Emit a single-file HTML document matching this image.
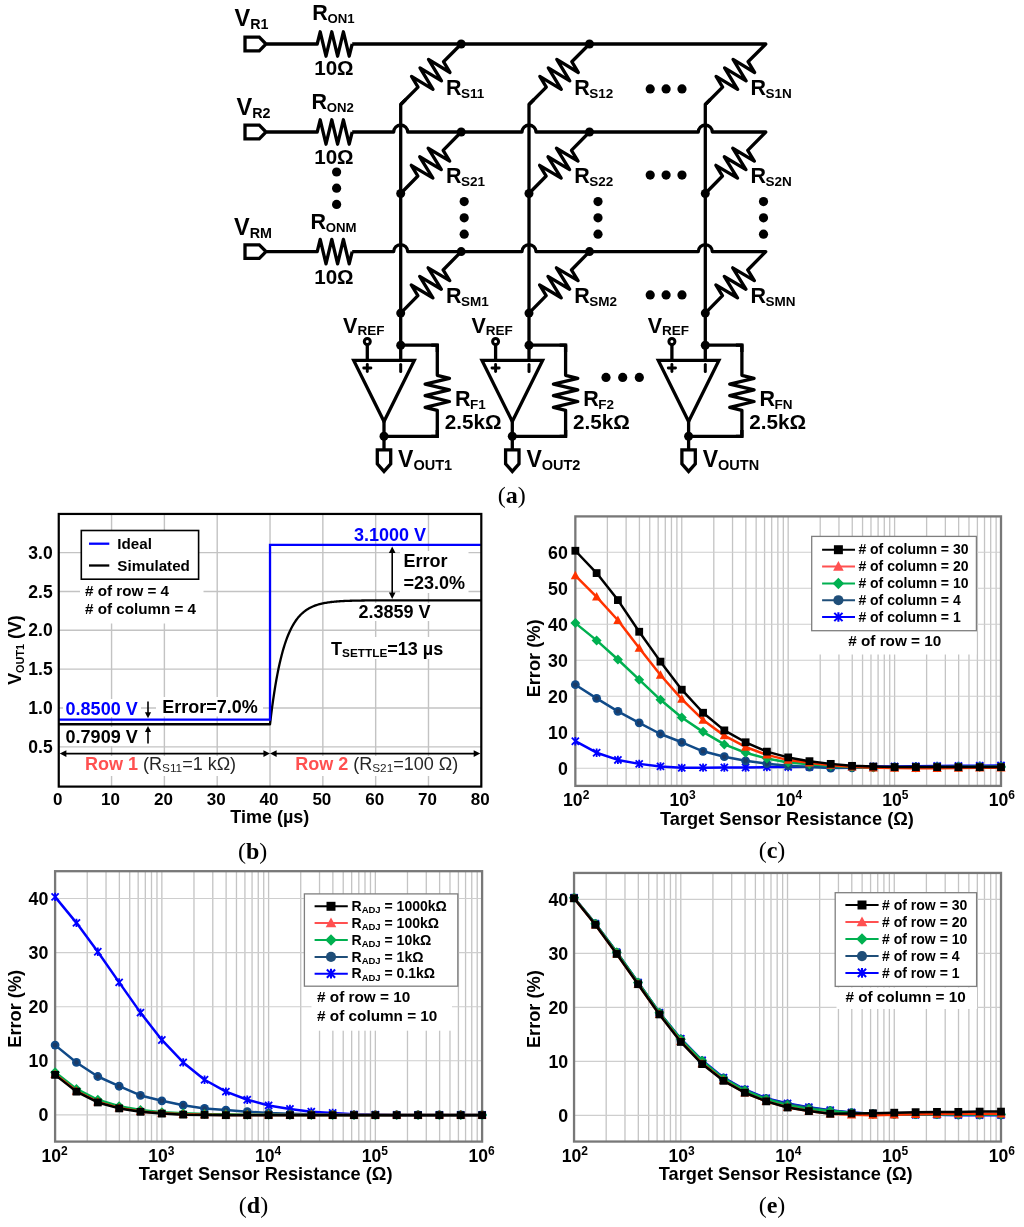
<!DOCTYPE html>
<html lang="en"><head><meta charset="utf-8"><title>Figure</title>
<style>html,body{margin:0;padding:0;background:#fff}svg{display:block}</style>
</head><body>
<svg width="1024" height="1227" viewBox="0 0 1024 1227" font-weight="bold">
<rect width="1024" height="1227" fill="#fff"/>
<g id="circuit" font-family='"Liberation Sans", sans-serif'>
<polygon points="245,37.2 259.3,37.2 266,44 259.3,50.8 245,50.8" fill="none" stroke="#000" stroke-width="3.3" stroke-linejoin="miter"/>
<polyline points="266.5,44 317.2,44 320.2,31.8 326,56.2 331.8,31.8 337.6,56.2 343.4,31.8 349.2,56.2 352.2,44" fill="none" stroke="#000" stroke-width="3.3" stroke-linejoin="round" stroke-linecap="butt"/>
<path d="M352.2 44 H765.8 L748.08 61.72 L754.59 72.47 L733.09 59.46 L746.1 80.95 L724.6 67.94 L737.61 89.44 L716.12 76.43 L722.62 87.18 L705.3 104.5" fill="none" stroke="#000" stroke-width="3.3" stroke-linejoin="round"/>
<polyline points="461.2,44 443.48,61.72 449.99,72.47 428.49,59.46 441.5,80.95 420,67.94 433.01,89.44 411.52,76.43 418.02,87.18 400.7,104.5" fill="none" stroke="#000" stroke-width="3.3" stroke-linejoin="round" stroke-linecap="butt"/>
<circle cx="461.2" cy="44" r="4.5" fill="#000"/>
<polyline points="589.5,44 571.78,61.72 578.29,72.47 556.79,59.46 569.8,80.95 548.3,67.94 561.31,89.44 539.82,76.43 546.32,87.18 529,104.5" fill="none" stroke="#000" stroke-width="3.3" stroke-linejoin="round" stroke-linecap="butt"/>
<circle cx="589.5" cy="44" r="4.5" fill="#000"/>
<polygon points="245,125.2 259.3,125.2 266,132 259.3,138.8 245,138.8" fill="none" stroke="#000" stroke-width="3.3" stroke-linejoin="miter"/>
<polyline points="266.5,132 317.2,132 320.2,119.8 326,144.2 331.8,119.8 337.6,144.2 343.4,119.8 349.2,144.2 352.2,132" fill="none" stroke="#000" stroke-width="3.3" stroke-linejoin="round" stroke-linecap="butt"/>
<path d="M352.2 132 H393.7 A7 7 0 0 1 407.7 132 H522 A7 7 0 0 1 536 132 H698.3 A7 7 0 0 1 712.3 132 H765.8 L747.73 150.37 L754.32 161.07 L732.72 148.23 L745.91 169.62 L724.3 156.79 L737.49 178.17 L715.89 165.34 L722.48 176.03 L705.3 193.5" fill="none" stroke="#000" stroke-width="3.3" stroke-linejoin="round"/>
<polyline points="461.2,132 443.13,150.37 449.72,161.07 428.12,148.23 441.31,169.62 419.7,156.79 432.89,178.17 411.29,165.34 417.88,176.03 400.7,193.5" fill="none" stroke="#000" stroke-width="3.3" stroke-linejoin="round" stroke-linecap="butt"/>
<circle cx="461.2" cy="132" r="4.5" fill="#000"/>
<polyline points="589.5,132 571.43,150.37 578.02,161.07 556.42,148.23 569.61,169.62 548,156.79 561.19,178.17 539.59,165.34 546.18,176.03 529,193.5" fill="none" stroke="#000" stroke-width="3.3" stroke-linejoin="round" stroke-linecap="butt"/>
<circle cx="589.5" cy="132" r="4.5" fill="#000"/>
<circle cx="400.7" cy="193.5" r="4.5" fill="#000"/>
<circle cx="529" cy="193.5" r="4.5" fill="#000"/>
<circle cx="705.3" cy="193.5" r="4.5" fill="#000"/>
<polygon points="245,244.8 259.3,244.8 266,251.6 259.3,258.4 245,258.4" fill="none" stroke="#000" stroke-width="3.3" stroke-linejoin="miter"/>
<polyline points="266.5,251.6 317.2,251.6 320.2,239.4 326,263.8 331.8,239.4 337.6,263.8 343.4,239.4 349.2,263.8 352.2,251.6" fill="none" stroke="#000" stroke-width="3.3" stroke-linejoin="round" stroke-linecap="butt"/>
<path d="M352.2 251.6 H393.7 A7 7 0 0 1 407.7 251.6 H522 A7 7 0 0 1 536 251.6 H698.3 A7 7 0 0 1 712.3 251.6 H765.8 L747.73 269.97 L754.32 280.67 L732.72 267.83 L745.91 289.22 L724.3 276.39 L737.49 297.77 L715.89 284.94 L722.48 295.63 L705.3 313.1" fill="none" stroke="#000" stroke-width="3.3" stroke-linejoin="round"/>
<polyline points="461.2,251.6 443.13,269.97 449.72,280.67 428.12,267.83 441.31,289.22 419.7,276.39 432.89,297.77 411.29,284.94 417.88,295.63 400.7,313.1" fill="none" stroke="#000" stroke-width="3.3" stroke-linejoin="round" stroke-linecap="butt"/>
<circle cx="461.2" cy="251.6" r="4.5" fill="#000"/>
<polyline points="589.5,251.6 571.43,269.97 578.02,280.67 556.42,267.83 569.61,289.22 548,276.39 561.19,297.77 539.59,284.94 546.18,295.63 529,313.1" fill="none" stroke="#000" stroke-width="3.3" stroke-linejoin="round" stroke-linecap="butt"/>
<circle cx="589.5" cy="251.6" r="4.5" fill="#000"/>
<circle cx="400.7" cy="313.1" r="4.5" fill="#000"/>
<circle cx="529" cy="313.1" r="4.5" fill="#000"/>
<circle cx="705.3" cy="313.1" r="4.5" fill="#000"/>
<polyline points="405.7,99.5 400.7,104.5 400.7,360.4" fill="none" stroke="#000" stroke-width="3.3" stroke-linejoin="miter" stroke-linecap="butt"/>
<polyline points="534,99.5 529,104.5 529,360.4" fill="none" stroke="#000" stroke-width="3.3" stroke-linejoin="miter" stroke-linecap="butt"/>
<polyline points="710.3,99.5 705.3,104.5 705.3,360.4" fill="none" stroke="#000" stroke-width="3.3" stroke-linejoin="miter" stroke-linecap="butt"/>
<polygon points="353.7,360.4 414.3,360.4 384,421.5" fill="none" stroke="#000" stroke-width="3.3" stroke-linejoin="miter" stroke-miterlimit="10"/>
<polyline points="384,419 384,449.8" fill="none" stroke="#000" stroke-width="3.3" stroke-linejoin="miter" stroke-linecap="butt"/>
<circle cx="384" cy="436.3" r="4.5" fill="#000"/>
<polygon points="377.3,449.8 390.7,449.8 390.7,463.8 384,471.4 377.3,463.8" fill="none" stroke="#000" stroke-width="3.3" stroke-linejoin="miter"/>
<polyline points="367.3,344.5 367.3,360.4" fill="none" stroke="#000" stroke-width="3.3" stroke-linejoin="miter" stroke-linecap="butt"/>
<circle cx="367.3" cy="341.5" r="3.0" fill="#fff" stroke="#000" stroke-width="3.0"/>
<polyline points="363.7,368 370.9,368" fill="none" stroke="#000" stroke-width="2.9" stroke-linejoin="miter" stroke-linecap="round"/>
<polyline points="367.3,364.4 367.3,371.6" fill="none" stroke="#000" stroke-width="2.9" stroke-linejoin="miter" stroke-linecap="round"/>
<polyline points="400.7,364.6 400.7,371.4" fill="none" stroke="#000" stroke-width="3" stroke-linejoin="miter" stroke-linecap="round"/>
<polyline points="400.7,345.2 437.3,345.2 437.3,375.3 449.5,378.3 425.1,384.1 449.5,389.9 425.1,395.7 449.5,401.5 425.1,407.3 437.3,410.3 437.3,436.3 384,436.3" fill="none" stroke="#000" stroke-width="3.3" stroke-linejoin="round" stroke-linecap="butt"/>
<polyline points="431.3,345.2 437.3,345.2 437.3,352" fill="none" stroke="#000" stroke-width="3.3" stroke-linejoin="miter" stroke-linecap="butt"/>
<polyline points="437.3,430 437.3,436.3 431.3,436.3" fill="none" stroke="#000" stroke-width="3.3" stroke-linejoin="miter" stroke-linecap="butt"/>
<circle cx="400.7" cy="345.2" r="4.5" fill="#000"/>
<polygon points="482,360.4 542.6,360.4 512.3,421.5" fill="none" stroke="#000" stroke-width="3.3" stroke-linejoin="miter" stroke-miterlimit="10"/>
<polyline points="512.3,419 512.3,449.8" fill="none" stroke="#000" stroke-width="3.3" stroke-linejoin="miter" stroke-linecap="butt"/>
<circle cx="512.3" cy="436.3" r="4.5" fill="#000"/>
<polygon points="505.6,449.8 519,449.8 519,463.8 512.3,471.4 505.6,463.8" fill="none" stroke="#000" stroke-width="3.3" stroke-linejoin="miter"/>
<polyline points="495.6,344.5 495.6,360.4" fill="none" stroke="#000" stroke-width="3.3" stroke-linejoin="miter" stroke-linecap="butt"/>
<circle cx="495.6" cy="341.5" r="3.0" fill="#fff" stroke="#000" stroke-width="3.0"/>
<polyline points="492,368 499.2,368" fill="none" stroke="#000" stroke-width="2.9" stroke-linejoin="miter" stroke-linecap="round"/>
<polyline points="495.6,364.4 495.6,371.6" fill="none" stroke="#000" stroke-width="2.9" stroke-linejoin="miter" stroke-linecap="round"/>
<polyline points="529,364.6 529,371.4" fill="none" stroke="#000" stroke-width="3" stroke-linejoin="miter" stroke-linecap="round"/>
<polyline points="529,345.2 565.6,345.2 565.6,375.3 577.8,378.3 553.4,384.1 577.8,389.9 553.4,395.7 577.8,401.5 553.4,407.3 565.6,410.3 565.6,436.3 512.3,436.3" fill="none" stroke="#000" stroke-width="3.3" stroke-linejoin="round" stroke-linecap="butt"/>
<polyline points="559.6,345.2 565.6,345.2 565.6,352" fill="none" stroke="#000" stroke-width="3.3" stroke-linejoin="miter" stroke-linecap="butt"/>
<polyline points="565.6,430 565.6,436.3 559.6,436.3" fill="none" stroke="#000" stroke-width="3.3" stroke-linejoin="miter" stroke-linecap="butt"/>
<circle cx="529" cy="345.2" r="4.5" fill="#000"/>
<polygon points="658.3,360.4 718.9,360.4 688.6,421.5" fill="none" stroke="#000" stroke-width="3.3" stroke-linejoin="miter" stroke-miterlimit="10"/>
<polyline points="688.6,419 688.6,449.8" fill="none" stroke="#000" stroke-width="3.3" stroke-linejoin="miter" stroke-linecap="butt"/>
<circle cx="688.6" cy="436.3" r="4.5" fill="#000"/>
<polygon points="681.9,449.8 695.3,449.8 695.3,463.8 688.6,471.4 681.9,463.8" fill="none" stroke="#000" stroke-width="3.3" stroke-linejoin="miter"/>
<polyline points="671.9,344.5 671.9,360.4" fill="none" stroke="#000" stroke-width="3.3" stroke-linejoin="miter" stroke-linecap="butt"/>
<circle cx="671.9" cy="341.5" r="3.0" fill="#fff" stroke="#000" stroke-width="3.0"/>
<polyline points="668.3,368 675.5,368" fill="none" stroke="#000" stroke-width="2.9" stroke-linejoin="miter" stroke-linecap="round"/>
<polyline points="671.9,364.4 671.9,371.6" fill="none" stroke="#000" stroke-width="2.9" stroke-linejoin="miter" stroke-linecap="round"/>
<polyline points="705.3,364.6 705.3,371.4" fill="none" stroke="#000" stroke-width="3" stroke-linejoin="miter" stroke-linecap="round"/>
<polyline points="705.3,345.2 741.9,345.2 741.9,375.3 754.1,378.3 729.7,384.1 754.1,389.9 729.7,395.7 754.1,401.5 729.7,407.3 741.9,410.3 741.9,436.3 688.6,436.3" fill="none" stroke="#000" stroke-width="3.3" stroke-linejoin="round" stroke-linecap="butt"/>
<polyline points="735.9,345.2 741.9,345.2 741.9,352" fill="none" stroke="#000" stroke-width="3.3" stroke-linejoin="miter" stroke-linecap="butt"/>
<polyline points="741.9,430 741.9,436.3 735.9,436.3" fill="none" stroke="#000" stroke-width="3.3" stroke-linejoin="miter" stroke-linecap="butt"/>
<circle cx="705.3" cy="345.2" r="4.5" fill="#000"/>
<circle cx="650.2" cy="88.9" r="4.6" fill="#000"/>
<circle cx="666.1" cy="88.9" r="4.6" fill="#000"/>
<circle cx="682" cy="88.9" r="4.6" fill="#000"/>
<circle cx="650.2" cy="175.1" r="4.6" fill="#000"/>
<circle cx="666.1" cy="175.1" r="4.6" fill="#000"/>
<circle cx="682" cy="175.1" r="4.6" fill="#000"/>
<circle cx="650.2" cy="294.9" r="4.6" fill="#000"/>
<circle cx="666.1" cy="294.9" r="4.6" fill="#000"/>
<circle cx="682" cy="294.9" r="4.6" fill="#000"/>
<circle cx="606" cy="377.4" r="4.6" fill="#000"/>
<circle cx="622.7" cy="377.4" r="4.6" fill="#000"/>
<circle cx="639.3" cy="377.4" r="4.6" fill="#000"/>
<circle cx="336.6" cy="172" r="4.6" fill="#000"/>
<circle cx="336.6" cy="188.2" r="4.6" fill="#000"/>
<circle cx="336.6" cy="204.4" r="4.6" fill="#000"/>
<circle cx="464.2" cy="201.6" r="4.6" fill="#000"/>
<circle cx="464.2" cy="217.8" r="4.6" fill="#000"/>
<circle cx="464.2" cy="234.2" r="4.6" fill="#000"/>
<circle cx="598" cy="201.6" r="4.6" fill="#000"/>
<circle cx="598" cy="217.8" r="4.6" fill="#000"/>
<circle cx="598" cy="234.2" r="4.6" fill="#000"/>
<circle cx="763.5" cy="201.6" r="4.6" fill="#000"/>
<circle cx="763.5" cy="217.8" r="4.6" fill="#000"/>
<circle cx="763.5" cy="234.2" r="4.6" fill="#000"/>
<text x="234.6" y="26.2" font-size="23.5" font-weight="bold" fill="#000" text-anchor="start"><tspan>V</tspan><tspan dy="3" font-size="14.3">R1</tspan></text>
<text x="236.6" y="115.4" font-size="23.5" font-weight="bold" fill="#000" text-anchor="start"><tspan>V</tspan><tspan dy="3" font-size="14.3">R2</tspan></text>
<text x="234.1" y="235.1" font-size="23.5" font-weight="bold" fill="#000" text-anchor="start"><tspan>V</tspan><tspan dy="3" font-size="14.3">RM</tspan></text>
<text x="312.3" y="19.7" font-size="21.5" font-weight="bold" fill="#000" text-anchor="start"><tspan>R</tspan><tspan dy="3" dx="-0.4" font-size="13.2">ON1</tspan></text>
<text x="314.2" y="74.7" font-size="20.6" font-weight="bold" fill="#000" text-anchor="start">10Ω</text>
<text x="311.5" y="109.2" font-size="21.5" font-weight="bold" fill="#000" text-anchor="start"><tspan>R</tspan><tspan dy="3" dx="-0.4" font-size="13.2">ON2</tspan></text>
<text x="314.2" y="163.5" font-size="20.6" font-weight="bold" fill="#000" text-anchor="start">10Ω</text>
<text x="310.5" y="228.7" font-size="21.5" font-weight="bold" fill="#000" text-anchor="start"><tspan>R</tspan><tspan dy="3" dx="-0.4" font-size="13.2">ONM</tspan></text>
<text x="314.2" y="284.1" font-size="20.6" font-weight="bold" fill="#000" text-anchor="start">10Ω</text>
<text x="446" y="94.5" font-size="21.5" font-weight="bold" fill="#000" text-anchor="start"><tspan>R</tspan><tspan dy="3.2" dx="-0.6" font-size="13.5">S11</tspan></text>
<text x="574.3" y="94.5" font-size="21.5" font-weight="bold" fill="#000" text-anchor="start"><tspan>R</tspan><tspan dy="3.2" dx="-0.6" font-size="13.5">S12</tspan></text>
<text x="750.6" y="94.5" font-size="21.5" font-weight="bold" fill="#000" text-anchor="start"><tspan>R</tspan><tspan dy="3.2" dx="-0.6" font-size="13.5">S1N</tspan></text>
<text x="446" y="182.8" font-size="21.5" font-weight="bold" fill="#000" text-anchor="start"><tspan>R</tspan><tspan dy="3.2" dx="-0.6" font-size="13.5">S21</tspan></text>
<text x="574.3" y="182.8" font-size="21.5" font-weight="bold" fill="#000" text-anchor="start"><tspan>R</tspan><tspan dy="3.2" dx="-0.6" font-size="13.5">S22</tspan></text>
<text x="750.6" y="182.8" font-size="21.5" font-weight="bold" fill="#000" text-anchor="start"><tspan>R</tspan><tspan dy="3.2" dx="-0.6" font-size="13.5">S2N</tspan></text>
<text x="446" y="302.8" font-size="21.5" font-weight="bold" fill="#000" text-anchor="start"><tspan>R</tspan><tspan dy="3.2" dx="-0.6" font-size="13.5">SM1</tspan></text>
<text x="574.3" y="302.8" font-size="21.5" font-weight="bold" fill="#000" text-anchor="start"><tspan>R</tspan><tspan dy="3.2" dx="-0.6" font-size="13.5">SM2</tspan></text>
<text x="750.6" y="302.8" font-size="21.5" font-weight="bold" fill="#000" text-anchor="start"><tspan>R</tspan><tspan dy="3.2" dx="-0.6" font-size="13.5">SMN</tspan></text>
<text x="343.1" y="332.8" font-size="21.5" font-weight="bold" fill="#000" text-anchor="start"><tspan>V</tspan><tspan dy="2.4" font-size="13.5">REF</tspan></text>
<text x="455" y="405.7" font-size="21.5" font-weight="bold" fill="#000" text-anchor="start"><tspan>R</tspan><tspan dy="3.2" dx="-0.6" font-size="13.5">F1</tspan></text>
<text x="444.7" y="428.8" font-size="20.7" font-weight="bold" fill="#000" text-anchor="start">2.5kΩ</text>
<text x="398.1" y="466.5" font-size="23" font-weight="bold" fill="#000" text-anchor="start"><tspan>V</tspan><tspan dy="3.4" font-size="14.5">OUT1</tspan></text>
<text x="471.4" y="332.8" font-size="21.5" font-weight="bold" fill="#000" text-anchor="start"><tspan>V</tspan><tspan dy="2.4" font-size="13.5">REF</tspan></text>
<text x="583.3" y="405.7" font-size="21.5" font-weight="bold" fill="#000" text-anchor="start"><tspan>R</tspan><tspan dy="3.2" dx="-0.6" font-size="13.5">F2</tspan></text>
<text x="573" y="428.8" font-size="20.7" font-weight="bold" fill="#000" text-anchor="start">2.5kΩ</text>
<text x="526.4" y="466.5" font-size="23" font-weight="bold" fill="#000" text-anchor="start"><tspan>V</tspan><tspan dy="3.4" font-size="14.5">OUT2</tspan></text>
<text x="647.7" y="332.8" font-size="21.5" font-weight="bold" fill="#000" text-anchor="start"><tspan>V</tspan><tspan dy="2.4" font-size="13.5">REF</tspan></text>
<text x="759.6" y="405.7" font-size="21.5" font-weight="bold" fill="#000" text-anchor="start"><tspan>R</tspan><tspan dy="3.2" dx="-0.6" font-size="13.5">FN</tspan></text>
<text x="749.3" y="428.8" font-size="20.7" font-weight="bold" fill="#000" text-anchor="start">2.5kΩ</text>
<text x="702.7" y="466.5" font-size="23" font-weight="bold" fill="#000" text-anchor="start"><tspan>V</tspan><tspan dy="3.4" font-size="14.5">OUTN</tspan></text>
</g>
<text x="511.7" y="503.2" font-size="24" font-weight="normal" fill="#000" text-anchor="middle" font-family='"Liberation Serif", serif'><tspan>(</tspan><tspan font-weight="bold">a</tspan><tspan>)</tspan></text>
<g font-family='"Liberation Sans", sans-serif'>
<path d="M111.57 513.95V786.6M164.39 513.95V786.6M217.21 513.95V786.6M270.02 513.95V786.6M322.84 513.95V786.6M375.66 513.95V786.6M428.48 513.95V786.6M58.75 746.85H481.3M58.75 708H481.3M58.75 669.15H481.3M58.75 630.3H481.3M58.75 591.45H481.3M58.75 552.6H481.3" stroke="#c3c3c3" stroke-width="1.4" fill="none"/>
<rect x="80" y="579.5" width="123.5" height="44" fill="#fff"/>
<rect x="63" y="699" width="78" height="18" fill="#fff"/>
<rect x="156" y="697" width="107" height="19.5" fill="#fff"/>
<rect x="63" y="727" width="78" height="19" fill="#fff"/>
<rect x="400" y="551" width="68.5" height="42" fill="#fff"/>
<rect x="355" y="603" width="78" height="18" fill="#fff"/>
<rect x="327" y="637" width="120" height="22" fill="#fff"/>
<rect x="83" y="756" width="156.5" height="20" fill="#fff"/>
<rect x="293" y="756" width="167.5" height="20" fill="#fff"/>
<polyline points="58.75,724.25 270.02,724.25 271.08,715.4 272.14,707.18 273.19,699.55 274.25,692.47 275.31,685.89 276.36,679.78 277.42,674.1 278.48,668.84 279.53,663.94 280.59,659.4 281.65,655.18 282.7,651.27 283.76,647.63 284.81,644.25 285.87,641.11 286.93,638.2 287.98,635.5 289.04,632.98 290.1,630.65 291.15,628.49 292.21,626.47 293.27,624.61 294.32,622.87 295.38,621.26 296.43,619.77 297.49,618.38 298.55,617.09 299.6,615.89 300.66,614.78 301.72,613.75 302.77,612.79 303.83,611.9 304.89,611.07 305.94,610.3 307,609.59 308.05,608.93 309.11,608.31 310.17,607.74 311.22,607.21 312.28,606.72 313.34,606.26 314.39,605.84 315.45,605.44 316.51,605.08 317.56,604.74 318.62,604.42 319.67,604.13 320.73,603.86 321.79,603.6 322.84,603.37 323.9,603.15 324.96,602.95 326.01,602.76 327.07,602.59 328.13,602.42 329.18,602.27 330.24,602.13 331.29,602 332.35,601.88 333.41,601.77 334.46,601.67 335.52,601.57 336.58,601.48 337.63,601.4 338.69,601.32 339.75,601.25 340.8,601.18 341.86,601.12 342.91,601.06 343.97,601.01 345.03,600.96 346.08,600.91 347.14,600.87 348.2,600.83 349.25,600.79 350.31,600.76 351.37,600.73 352.42,600.7 353.48,600.67 354.53,600.65 355.59,600.62 356.65,600.6 357.7,600.58 358.76,600.56 359.82,600.54 360.87,600.53 361.93,600.51 362.99,600.5 364.04,600.49 365.1,600.47 366.16,600.46 367.21,600.45 368.27,600.44 369.32,600.43 370.38,600.42 371.44,600.42 372.49,600.41 373.55,600.4 374.61,600.4 375.66,600.39 376.72,600.39 377.78,600.38 378.83,600.38 379.89,600.37 380.94,600.37 382,600.36 383.06,600.36 384.11,600.36 385.17,600.35 386.23,600.35 387.28,600.35 388.34,600.35 389.4,600.34 390.45,600.34 391.51,600.34 392.56,600.34 393.62,600.34 394.68,600.34 395.73,600.33 396.79,600.33 397.85,600.33 398.9,600.33 399.96,600.33 401.02,600.33 402.07,600.33 403.13,600.33 404.18,600.33 405.24,600.33 406.3,600.32 407.35,600.32 408.41,600.32 409.47,600.32 410.52,600.32 411.58,600.32 412.64,600.32 413.69,600.32 414.75,600.32 415.8,600.32 416.86,600.32 417.92,600.32 418.97,600.32 420.03,600.32 421.09,600.32 422.14,600.32 423.2,600.32 424.26,600.32 425.31,600.32 426.37,600.32 427.42,600.32 428.48,600.32 429.54,600.32 430.59,600.32 431.65,600.32 432.71,600.32 433.76,600.32 434.82,600.32 435.88,600.32 436.93,600.32 437.99,600.32 439.05,600.32 440.1,600.32 441.16,600.32 442.21,600.32 443.27,600.32 444.33,600.32 445.38,600.32 446.44,600.32 447.5,600.32 448.55,600.32 449.61,600.32 450.67,600.32 451.72,600.32 452.78,600.32 453.83,600.32 454.89,600.32 455.95,600.32 457,600.32 458.06,600.32 459.12,600.32 460.17,600.32 461.23,600.32 462.29,600.32 463.34,600.32 464.4,600.32 465.45,600.32 466.51,600.32 467.57,600.32 468.62,600.32 469.68,600.32 470.74,600.32 471.79,600.32 472.85,600.32 473.91,600.32 474.96,600.32 476.02,600.32 477.07,600.32 478.13,600.32 479.19,600.32 480.24,600.32 481.3,600.32" fill="none" stroke="#000" stroke-width="2.3" stroke-linejoin="round"/>
<polyline points="58.75,719.66 270.02,719.66 270.02,544.83 481.3,544.83" fill="none" stroke="#0000ff" stroke-width="2.3" stroke-linejoin="miter"/>
<rect x="58.75" y="513.95" width="422.55" height="272.65" fill="none" stroke="#000" stroke-width="2.2"/>
<rect x="81.3" y="530.5" width="117.3" height="48.7" fill="#fff" stroke="#000" stroke-width="1.6"/>
<path d="M89 543.7H109.3" stroke="#0000ff" stroke-width="2.3"/>
<path d="M89 565.5H109.3" stroke="#000" stroke-width="2.3"/>
<text x="117.3" y="548.7" font-size="15.2" font-weight="bold" fill="#000" text-anchor="start">Ideal</text>
<text x="117.3" y="570.5" font-size="15.2" font-weight="bold" fill="#000" text-anchor="start">Simulated</text>
<text x="85" y="596" font-size="15.2" font-weight="bold" fill="#000" text-anchor="start"># of row = 4</text>
<text x="85" y="614.1" font-size="15.2" font-weight="bold" fill="#000" text-anchor="start"># of column = 4</text>
<text x="354" y="540.5" font-size="18" font-weight="bold" fill="#0000ff" text-anchor="start">3.1000 V</text>
<text x="403.4" y="566.7" font-size="18" font-weight="bold" fill="#000" text-anchor="start">Error</text>
<text x="403.4" y="589.1" font-size="18" font-weight="bold" fill="#000" text-anchor="start">=23.0%</text>
<text x="358.4" y="617.7" font-size="18" font-weight="bold" fill="#000" text-anchor="start">2.3859 V</text>
<text x="331.1" y="654.5" font-size="18" font-weight="bold" fill="#000" text-anchor="start"><tspan>T</tspan><tspan dy="2.6" font-size="11.8">SETTLE</tspan><tspan dy="-2.6">=13 µs</tspan></text>
<text x="65.6" y="715.2" font-size="18" font-weight="bold" fill="#0000ff" text-anchor="start">0.8500 V</text>
<text x="65.6" y="743.2" font-size="18" font-weight="bold" fill="#000" text-anchor="start">0.7909 V</text>
<text x="162.2" y="713.3" font-size="18" font-weight="bold" fill="#000" text-anchor="start">Error=7.0%</text>
<text x="85" y="769.6" font-size="18" font-weight="bold" fill="#ff5050" text-anchor="start"><tspan>Row 1 </tspan><tspan font-weight="normal" fill="#262626">(R</tspan><tspan dy="2.8" font-size="11.8" font-weight="normal" fill="#262626">S11</tspan><tspan dy="-2.8" font-weight="normal" fill="#262626">=1 kΩ)</tspan></text>
<text x="295.2" y="769.6" font-size="18" font-weight="bold" fill="#ff5050" text-anchor="start"><tspan>Row 2 </tspan><tspan font-weight="normal" fill="#262626">(R</tspan><tspan dy="2.8" font-size="11.8" font-weight="normal" fill="#262626">S21</tspan><tspan dy="-2.8" font-weight="normal" fill="#262626">=100 Ω)</tspan></text>
<path d="M62.75 753.6H267.02" stroke="#000" stroke-width="1.6"/>
<polygon points="59.75,753.6 66.35,750.3 66.35,756.9" fill="#000"/>
<polygon points="270.02,753.6 263.42,756.9 263.42,750.3" fill="#000"/>
<path d="M273.02 753.6H477.3" stroke="#000" stroke-width="1.6"/>
<polygon points="270.02,753.6 276.62,750.3 276.62,756.9" fill="#000"/>
<polygon points="480.3,753.6 473.7,756.9 473.7,750.3" fill="#000"/>
<path d="M392.2 551V595" stroke="#000" stroke-width="1.6"/>
<polygon points="392.2,546.5 395.5,553.1 388.9,553.1" fill="#000"/>
<polygon points="392.2,599 388.9,592.4 395.5,592.4" fill="#000"/>
<path d="M148 701.5V714" stroke="#000" stroke-width="1.6"/>
<polygon points="148,718.3 144.9,712.3 151.1,712.3" fill="#000"/>
<path d="M148 731V743.6" stroke="#000" stroke-width="1.6"/>
<polygon points="148,726 151.1,732 144.9,732" fill="#000"/>
<text x="57.75" y="804.9" font-size="17" font-weight="bold" fill="#000" text-anchor="middle">0</text>
<text x="110.57" y="804.9" font-size="17" font-weight="bold" fill="#000" text-anchor="middle">10</text>
<text x="163.39" y="804.9" font-size="17" font-weight="bold" fill="#000" text-anchor="middle">20</text>
<text x="216.21" y="804.9" font-size="17" font-weight="bold" fill="#000" text-anchor="middle">30</text>
<text x="269.02" y="804.9" font-size="17" font-weight="bold" fill="#000" text-anchor="middle">40</text>
<text x="321.84" y="804.9" font-size="17" font-weight="bold" fill="#000" text-anchor="middle">50</text>
<text x="374.66" y="804.9" font-size="17" font-weight="bold" fill="#000" text-anchor="middle">60</text>
<text x="427.48" y="804.9" font-size="17" font-weight="bold" fill="#000" text-anchor="middle">70</text>
<text x="480.3" y="804.9" font-size="17" font-weight="bold" fill="#000" text-anchor="middle">80</text>
<text x="52.7" y="752.95" font-size="17.5" font-weight="bold" fill="#000" text-anchor="end">0.5</text>
<text x="52.7" y="714.1" font-size="17.5" font-weight="bold" fill="#000" text-anchor="end">1.0</text>
<text x="52.7" y="675.25" font-size="17.5" font-weight="bold" fill="#000" text-anchor="end">1.5</text>
<text x="52.7" y="636.4" font-size="17.5" font-weight="bold" fill="#000" text-anchor="end">2.0</text>
<text x="52.7" y="597.55" font-size="17.5" font-weight="bold" fill="#000" text-anchor="end">2.5</text>
<text x="52.7" y="558.7" font-size="17.5" font-weight="bold" fill="#000" text-anchor="end">3.0</text>
<text x="269.8" y="822.7" font-size="18" font-weight="bold" fill="#000" text-anchor="middle">Time (µs)</text>
<text x="21.3" y="650" font-size="17.8" font-weight="bold" fill="#000" text-anchor="middle" transform="rotate(-90 21.3 650)"><tspan>V</tspan><tspan dy="2.6" font-size="10.9">OUT1</tspan><tspan dy="-2.6"> (V)</tspan></text>
</g>
<text x="252.6" y="858.6" font-size="24" font-weight="normal" fill="#000" text-anchor="middle" font-family='"Liberation Serif", serif'><tspan>(</tspan><tspan font-weight="bold">b</tspan><tspan>)</tspan></text>
<g font-family='"Liberation Sans", sans-serif'>
<path d="M607.38 516.4V785.9M626.12 516.4V785.9M639.42 516.4V785.9M649.73 516.4V785.9M658.16 516.4V785.9M665.28 516.4V785.9M671.45 516.4V785.9M676.89 516.4V785.9M681.76 516.4V785.9M713.8 516.4V785.9M732.53 516.4V785.9M745.83 516.4V785.9M756.14 516.4V785.9M764.57 516.4V785.9M771.69 516.4V785.9M777.86 516.4V785.9M783.31 516.4V785.9M788.17 516.4V785.9M820.21 516.4V785.9M838.95 516.4V785.9M852.24 516.4V785.9M862.55 516.4V785.9M870.98 516.4V785.9M878.1 516.4V785.9M884.28 516.4V785.9M889.72 516.4V785.9M894.59 516.4V785.9M926.62 516.4V785.9M945.36 516.4V785.9M958.65 516.4V785.9M968.97 516.4V785.9M977.39 516.4V785.9M984.52 516.4V785.9M990.69 516.4V785.9M996.13 516.4V785.9" stroke="#c4c4c4" stroke-width="1.3" fill="none"/>
<path d="M575.35 768.2H1001M575.35 732.2H1001M575.35 696.2H1001M575.35 660.2H1001M575.35 624.2H1001M575.35 588.2H1001M575.35 552.2H1001" stroke="#cecece" stroke-width="1.1" fill="none"/>
<rect x="811.7" y="630.7" width="164.7" height="23.8" fill="#fff"/>
<rect x="575.35" y="516.4" width="425.65" height="269.5" fill="none" stroke="#787878" stroke-width="2.3"/>
<polyline points="575.35,741.2 596.63,752.72 617.91,759.92 639.2,763.88 660.48,766.4 681.76,767.84 703.05,767.66 724.33,767.48 745.61,767.48 766.89,767.12 788.17,766.94 809.46,766.76 830.74,766.76 852.02,766.58 873.31,766.58 894.59,766.4 915.87,766.22 937.15,766.04 958.43,765.86 979.72,765.68 1001,765.5" fill="none" stroke="#0000ff" stroke-width="2.5" stroke-linejoin="round"/>
<path d="M575.35 737V745.4M571.78 737.63L578.92 744.77M571.78 744.77L578.92 737.63" stroke="#0000ff" stroke-width="1.8" fill="none"/>
<path d="M596.63 748.52V756.92M593.06 749.15L600.2 756.29M593.06 756.29L600.2 749.15" stroke="#0000ff" stroke-width="1.8" fill="none"/>
<path d="M617.91 755.72V764.12M614.34 756.35L621.49 763.49M614.34 763.49L621.49 756.35" stroke="#0000ff" stroke-width="1.8" fill="none"/>
<path d="M639.2 759.68V768.08M635.63 760.31L642.77 767.45M635.63 767.45L642.77 760.31" stroke="#0000ff" stroke-width="1.8" fill="none"/>
<path d="M660.48 762.2V770.6M656.91 762.83L664.05 769.97M656.91 769.97L664.05 762.83" stroke="#0000ff" stroke-width="1.8" fill="none"/>
<path d="M681.76 763.64V772.04M678.19 764.27L685.33 771.41M678.19 771.41L685.33 764.27" stroke="#0000ff" stroke-width="1.8" fill="none"/>
<path d="M703.05 763.46V771.86M699.48 764.09L706.62 771.23M699.48 771.23L706.62 764.09" stroke="#0000ff" stroke-width="1.8" fill="none"/>
<path d="M724.33 763.28V771.68M720.76 763.91L727.9 771.05M720.76 771.05L727.9 763.91" stroke="#0000ff" stroke-width="1.8" fill="none"/>
<path d="M745.61 763.28V771.68M742.04 763.91L749.18 771.05M742.04 771.05L749.18 763.91" stroke="#0000ff" stroke-width="1.8" fill="none"/>
<path d="M766.89 762.92V771.32M763.32 763.55L770.46 770.69M763.32 770.69L770.46 763.55" stroke="#0000ff" stroke-width="1.8" fill="none"/>
<path d="M788.17 762.74V771.14M784.6 763.37L791.75 770.51M784.6 770.51L791.75 763.37" stroke="#0000ff" stroke-width="1.8" fill="none"/>
<path d="M809.46 762.56V770.96M805.89 763.19L813.03 770.33M805.89 770.33L813.03 763.19" stroke="#0000ff" stroke-width="1.8" fill="none"/>
<path d="M830.74 762.56V770.96M827.17 763.19L834.31 770.33M827.17 770.33L834.31 763.19" stroke="#0000ff" stroke-width="1.8" fill="none"/>
<path d="M852.02 762.38V770.78M848.45 763.01L855.59 770.15M848.45 770.15L855.59 763.01" stroke="#0000ff" stroke-width="1.8" fill="none"/>
<path d="M873.31 762.38V770.78M869.74 763.01L876.88 770.15M869.74 770.15L876.88 763.01" stroke="#0000ff" stroke-width="1.8" fill="none"/>
<path d="M894.59 762.2V770.6M891.02 762.83L898.16 769.97M891.02 769.97L898.16 762.83" stroke="#0000ff" stroke-width="1.8" fill="none"/>
<path d="M915.87 762.02V770.42M912.3 762.65L919.44 769.79M912.3 769.79L919.44 762.65" stroke="#0000ff" stroke-width="1.8" fill="none"/>
<path d="M937.15 761.84V770.24M933.58 762.47L940.72 769.61M933.58 769.61L940.72 762.47" stroke="#0000ff" stroke-width="1.8" fill="none"/>
<path d="M958.43 761.66V770.06M954.86 762.29L962 769.43M954.86 769.43L962 762.29" stroke="#0000ff" stroke-width="1.8" fill="none"/>
<path d="M979.72 761.48V769.88M976.15 762.11L983.29 769.25M976.15 769.25L983.29 762.11" stroke="#0000ff" stroke-width="1.8" fill="none"/>
<path d="M1001 761.3V769.7M997.43 761.93L1004.57 769.07M997.43 769.07L1004.57 761.93" stroke="#0000ff" stroke-width="1.8" fill="none"/>
<polyline points="575.35,684.68 596.63,698.36 617.91,711.32 639.2,722.84 660.48,734 681.76,742.28 703.05,751.28 724.33,756.68 745.61,760.82 766.89,763.7 788.17,765.86 809.46,767.12 830.74,768.02 852.02,767.84 873.31,767.48 894.59,767.12 915.87,766.94 937.15,766.76 958.43,766.76 979.72,766.58 1001,766.58" fill="none" stroke="#104a88" stroke-width="2.5" stroke-linejoin="round"/>
<circle cx="575.35" cy="684.68" r="4.4" fill="#104a88"/>
<circle cx="575.35" cy="684.68" r="2.3" fill="#1c3b66"/>
<circle cx="596.63" cy="698.36" r="4.4" fill="#104a88"/>
<circle cx="596.63" cy="698.36" r="2.3" fill="#1c3b66"/>
<circle cx="617.91" cy="711.32" r="4.4" fill="#104a88"/>
<circle cx="617.91" cy="711.32" r="2.3" fill="#1c3b66"/>
<circle cx="639.2" cy="722.84" r="4.4" fill="#104a88"/>
<circle cx="639.2" cy="722.84" r="2.3" fill="#1c3b66"/>
<circle cx="660.48" cy="734" r="4.4" fill="#104a88"/>
<circle cx="660.48" cy="734" r="2.3" fill="#1c3b66"/>
<circle cx="681.76" cy="742.28" r="4.4" fill="#104a88"/>
<circle cx="681.76" cy="742.28" r="2.3" fill="#1c3b66"/>
<circle cx="703.05" cy="751.28" r="4.4" fill="#104a88"/>
<circle cx="703.05" cy="751.28" r="2.3" fill="#1c3b66"/>
<circle cx="724.33" cy="756.68" r="4.4" fill="#104a88"/>
<circle cx="724.33" cy="756.68" r="2.3" fill="#1c3b66"/>
<circle cx="745.61" cy="760.82" r="4.4" fill="#104a88"/>
<circle cx="745.61" cy="760.82" r="2.3" fill="#1c3b66"/>
<circle cx="766.89" cy="763.7" r="4.4" fill="#104a88"/>
<circle cx="766.89" cy="763.7" r="2.3" fill="#1c3b66"/>
<circle cx="788.17" cy="765.86" r="4.4" fill="#104a88"/>
<circle cx="788.17" cy="765.86" r="2.3" fill="#1c3b66"/>
<circle cx="809.46" cy="767.12" r="4.4" fill="#104a88"/>
<circle cx="809.46" cy="767.12" r="2.3" fill="#1c3b66"/>
<circle cx="830.74" cy="768.02" r="4.4" fill="#104a88"/>
<circle cx="830.74" cy="768.02" r="2.3" fill="#1c3b66"/>
<circle cx="852.02" cy="767.84" r="4.4" fill="#104a88"/>
<circle cx="852.02" cy="767.84" r="2.3" fill="#1c3b66"/>
<circle cx="873.31" cy="767.48" r="4.4" fill="#104a88"/>
<circle cx="873.31" cy="767.48" r="2.3" fill="#1c3b66"/>
<circle cx="894.59" cy="767.12" r="4.4" fill="#104a88"/>
<circle cx="894.59" cy="767.12" r="2.3" fill="#1c3b66"/>
<circle cx="915.87" cy="766.94" r="4.4" fill="#104a88"/>
<circle cx="915.87" cy="766.94" r="2.3" fill="#1c3b66"/>
<circle cx="937.15" cy="766.76" r="4.4" fill="#104a88"/>
<circle cx="937.15" cy="766.76" r="2.3" fill="#1c3b66"/>
<circle cx="958.43" cy="766.76" r="4.4" fill="#104a88"/>
<circle cx="958.43" cy="766.76" r="2.3" fill="#1c3b66"/>
<circle cx="979.72" cy="766.58" r="4.4" fill="#104a88"/>
<circle cx="979.72" cy="766.58" r="2.3" fill="#1c3b66"/>
<circle cx="1001" cy="766.58" r="4.4" fill="#104a88"/>
<circle cx="1001" cy="766.58" r="2.3" fill="#1c3b66"/>
<polyline points="575.35,623.12 596.63,640.4 617.91,659.48 639.2,679.64 660.48,699.8 681.76,717.44 703.05,731.84 724.33,744.44 745.61,752.72 766.89,758.48 788.17,762.44 809.46,764.24 830.74,766.04 852.02,766.94 873.31,767.48 894.59,767.48 915.87,767.48 937.15,767.3 958.43,767.12 979.72,767.12 1001,767.12" fill="none" stroke="#00b050" stroke-width="2.5" stroke-linejoin="round"/>
<polygon points="575.35,618.12 580.35,623.12 575.35,628.12 570.35,623.12" fill="#00b050"/>
<polygon points="596.63,635.4 601.63,640.4 596.63,645.4 591.63,640.4" fill="#00b050"/>
<polygon points="617.91,654.48 622.91,659.48 617.91,664.48 612.91,659.48" fill="#00b050"/>
<polygon points="639.2,674.64 644.2,679.64 639.2,684.64 634.2,679.64" fill="#00b050"/>
<polygon points="660.48,694.8 665.48,699.8 660.48,704.8 655.48,699.8" fill="#00b050"/>
<polygon points="681.76,712.44 686.76,717.44 681.76,722.44 676.76,717.44" fill="#00b050"/>
<polygon points="703.05,726.84 708.05,731.84 703.05,736.84 698.05,731.84" fill="#00b050"/>
<polygon points="724.33,739.44 729.33,744.44 724.33,749.44 719.33,744.44" fill="#00b050"/>
<polygon points="745.61,747.72 750.61,752.72 745.61,757.72 740.61,752.72" fill="#00b050"/>
<polygon points="766.89,753.48 771.89,758.48 766.89,763.48 761.89,758.48" fill="#00b050"/>
<polygon points="788.17,757.44 793.17,762.44 788.17,767.44 783.17,762.44" fill="#00b050"/>
<polygon points="809.46,759.24 814.46,764.24 809.46,769.24 804.46,764.24" fill="#00b050"/>
<polygon points="830.74,761.04 835.74,766.04 830.74,771.04 825.74,766.04" fill="#00b050"/>
<polygon points="852.02,761.94 857.02,766.94 852.02,771.94 847.02,766.94" fill="#00b050"/>
<polygon points="873.31,762.48 878.31,767.48 873.31,772.48 868.31,767.48" fill="#00b050"/>
<polygon points="894.59,762.48 899.59,767.48 894.59,772.48 889.59,767.48" fill="#00b050"/>
<polygon points="915.87,762.48 920.87,767.48 915.87,772.48 910.87,767.48" fill="#00b050"/>
<polygon points="937.15,762.3 942.15,767.3 937.15,772.3 932.15,767.3" fill="#00b050"/>
<polygon points="958.43,762.12 963.43,767.12 958.43,772.12 953.43,767.12" fill="#00b050"/>
<polygon points="979.72,762.12 984.72,767.12 979.72,772.12 974.72,767.12" fill="#00b050"/>
<polygon points="1001,762.12 1006,767.12 1001,772.12 996,767.12" fill="#00b050"/>
<polyline points="575.35,575.6 596.63,596.84 617.91,620.24 639.2,647.96 660.48,674.96 681.76,699.08 703.05,719.96 724.33,735.62 745.61,746.96 766.89,754.88 788.17,760.1 809.46,762.8 830.74,765.14 852.02,766.76 873.31,767.84 894.59,768.02 915.87,768.2 937.15,768.2 958.43,768.02 979.72,767.84 1001,767.84" fill="none" stroke="#ff3300" stroke-width="2.5" stroke-linejoin="round"/>
<polygon points="575.35,570.77 579.95,579.28 570.75,579.28" fill="#ff3300"/>
<polygon points="596.63,592.01 601.23,600.52 592.03,600.52" fill="#ff3300"/>
<polygon points="617.91,615.41 622.51,623.92 613.31,623.92" fill="#ff3300"/>
<polygon points="639.2,643.13 643.8,651.64 634.6,651.64" fill="#ff3300"/>
<polygon points="660.48,670.13 665.08,678.64 655.88,678.64" fill="#ff3300"/>
<polygon points="681.76,694.25 686.36,702.76 677.16,702.76" fill="#ff3300"/>
<polygon points="703.05,715.13 707.65,723.64 698.45,723.64" fill="#ff3300"/>
<polygon points="724.33,730.79 728.93,739.3 719.73,739.3" fill="#ff3300"/>
<polygon points="745.61,742.13 750.21,750.64 741.01,750.64" fill="#ff3300"/>
<polygon points="766.89,750.05 771.49,758.56 762.29,758.56" fill="#ff3300"/>
<polygon points="788.17,755.27 792.77,763.78 783.57,763.78" fill="#ff3300"/>
<polygon points="809.46,757.97 814.06,766.48 804.86,766.48" fill="#ff3300"/>
<polygon points="830.74,760.31 835.34,768.82 826.14,768.82" fill="#ff3300"/>
<polygon points="852.02,761.93 856.62,770.44 847.42,770.44" fill="#ff3300"/>
<polygon points="873.31,763.01 877.91,771.52 868.71,771.52" fill="#ff3300"/>
<polygon points="894.59,763.19 899.19,771.7 889.99,771.7" fill="#ff3300"/>
<polygon points="915.87,763.37 920.47,771.88 911.27,771.88" fill="#ff3300"/>
<polygon points="937.15,763.37 941.75,771.88 932.55,771.88" fill="#ff3300"/>
<polygon points="958.43,763.19 963.03,771.7 953.83,771.7" fill="#ff3300"/>
<polygon points="979.72,763.01 984.32,771.52 975.12,771.52" fill="#ff3300"/>
<polygon points="1001,763.01 1005.6,771.52 996.4,771.52" fill="#ff3300"/>
<polyline points="575.35,550.76 596.63,573.08 617.91,600.08 639.2,631.76 660.48,661.64 681.76,689.72 703.05,712.76 724.33,730.4 745.61,742.28 766.89,751.64 788.17,757.4 809.46,761.18 830.74,763.88 852.02,765.86 873.31,766.58 894.59,767.12 915.87,767.12 937.15,767.12 958.43,767.12 979.72,767.12 1001,767.12" fill="none" stroke="#000" stroke-width="2.5" stroke-linejoin="round"/>
<rect x="571.45" y="546.86" width="7.8" height="7.8" fill="#000"/>
<rect x="592.73" y="569.18" width="7.8" height="7.8" fill="#000"/>
<rect x="614.01" y="596.18" width="7.8" height="7.8" fill="#000"/>
<rect x="635.3" y="627.86" width="7.8" height="7.8" fill="#000"/>
<rect x="656.58" y="657.74" width="7.8" height="7.8" fill="#000"/>
<rect x="677.86" y="685.82" width="7.8" height="7.8" fill="#000"/>
<rect x="699.15" y="708.86" width="7.8" height="7.8" fill="#000"/>
<rect x="720.43" y="726.5" width="7.8" height="7.8" fill="#000"/>
<rect x="741.71" y="738.38" width="7.8" height="7.8" fill="#000"/>
<rect x="762.99" y="747.74" width="7.8" height="7.8" fill="#000"/>
<rect x="784.27" y="753.5" width="7.8" height="7.8" fill="#000"/>
<rect x="805.56" y="757.28" width="7.8" height="7.8" fill="#000"/>
<rect x="826.84" y="759.98" width="7.8" height="7.8" fill="#000"/>
<rect x="848.12" y="761.96" width="7.8" height="7.8" fill="#000"/>
<rect x="869.41" y="762.68" width="7.8" height="7.8" fill="#000"/>
<rect x="890.69" y="763.22" width="7.8" height="7.8" fill="#000"/>
<rect x="911.97" y="763.22" width="7.8" height="7.8" fill="#000"/>
<rect x="933.25" y="763.22" width="7.8" height="7.8" fill="#000"/>
<rect x="954.53" y="763.22" width="7.8" height="7.8" fill="#000"/>
<rect x="975.82" y="763.22" width="7.8" height="7.8" fill="#000"/>
<rect x="997.1" y="763.22" width="7.8" height="7.8" fill="#000"/>
<rect x="811.7" y="536.4" width="164.7" height="94.3" fill="#fff" stroke="#7f7f7f" stroke-width="1.3"/>
<path d="M822.1 549.7H855" stroke="#000" stroke-width="2" fill="none"/>
<rect x="833.91" y="545.22" width="8.97" height="8.97" fill="#000"/>
<text x="858.4" y="554.2" font-size="14" font-weight="bold" fill="#000" text-anchor="start"># of column = 30</text>
<path d="M822.1 566.5H855" stroke="#ff5050" stroke-width="2" fill="none"/>
<polygon points="838.4,560.95 843.69,570.73 833.11,570.73" fill="#ff5050"/>
<text x="858.4" y="571" font-size="14" font-weight="bold" fill="#000" text-anchor="start"># of column = 20</text>
<path d="M822.1 583.4H855" stroke="#00b050" stroke-width="2" fill="none"/>
<polygon points="838.4,577.65 844.15,583.4 838.4,589.15 832.65,583.4" fill="#00b050"/>
<text x="858.4" y="587.9" font-size="14" font-weight="bold" fill="#000" text-anchor="start"># of column = 10</text>
<path d="M822.1 600.2H855" stroke="#1f4e79" stroke-width="2" fill="none"/>
<circle cx="838.4" cy="600.2" r="5.06" fill="#1f4e79"/>
<text x="858.4" y="604.7" font-size="14" font-weight="bold" fill="#000" text-anchor="start"># of column = 4</text>
<path d="M822.1 617H855" stroke="#0000ff" stroke-width="2" fill="none"/>
<path d="M838.4 612.17V621.83M834.29 612.89L842.51 621.11M834.29 621.11L842.51 612.89" stroke="#0000ff" stroke-width="2.07" fill="none"/>
<text x="858.4" y="621.5" font-size="14" font-weight="bold" fill="#000" text-anchor="start"># of column = 1</text>
<text x="848.2" y="645.6" font-size="15.3" font-weight="bold" fill="#000" text-anchor="start"># of row = 10</text>
<text x="567.85" y="774.5" font-size="17.8" font-weight="bold" fill="#000" text-anchor="end">0</text>
<text x="567.85" y="738.5" font-size="17.8" font-weight="bold" fill="#000" text-anchor="end">10</text>
<text x="567.85" y="702.5" font-size="17.8" font-weight="bold" fill="#000" text-anchor="end">20</text>
<text x="567.85" y="666.5" font-size="17.8" font-weight="bold" fill="#000" text-anchor="end">30</text>
<text x="567.85" y="630.5" font-size="17.8" font-weight="bold" fill="#000" text-anchor="end">40</text>
<text x="567.85" y="594.5" font-size="17.8" font-weight="bold" fill="#000" text-anchor="end">50</text>
<text x="567.85" y="558.5" font-size="17.8" font-weight="bold" fill="#000" text-anchor="end">60</text>
<text x="563.05" y="806.2" font-size="17.6" font-weight="bold" fill="#000" text-anchor="start"><tspan>10</tspan><tspan dy="-7.5" font-size="12">2</tspan></text>
<text x="669.46" y="806.2" font-size="17.6" font-weight="bold" fill="#000" text-anchor="start"><tspan>10</tspan><tspan dy="-7.5" font-size="12">3</tspan></text>
<text x="775.88" y="806.2" font-size="17.6" font-weight="bold" fill="#000" text-anchor="start"><tspan>10</tspan><tspan dy="-7.5" font-size="12">4</tspan></text>
<text x="882.29" y="806.2" font-size="17.6" font-weight="bold" fill="#000" text-anchor="start"><tspan>10</tspan><tspan dy="-7.5" font-size="12">5</tspan></text>
<text x="988.7" y="806.2" font-size="17.6" font-weight="bold" fill="#000" text-anchor="start"><tspan>10</tspan><tspan dy="-7.5" font-size="12">6</tspan></text>
<text x="786.97" y="824.6" font-size="18.2" font-weight="bold" fill="#000" text-anchor="middle">Target Sensor Resistance (Ω)</text>
<text x="539.75" y="658.45" font-size="18.2" font-weight="bold" fill="#000" text-anchor="middle" transform="rotate(-90 539.75 658.45)">Error (%)</text>
</g>
<text x="772" y="858" font-size="24" font-weight="normal" fill="#000" text-anchor="middle" font-family='"Liberation Serif", serif'><tspan>(</tspan><tspan font-weight="bold">c</tspan><tspan>)</tspan></text>
<g font-family='"Liberation Sans", sans-serif'>
<path d="M87.23 871.2V1141.6M106.03 871.2V1141.6M119.37 871.2V1141.6M129.72 871.2V1141.6M138.17 871.2V1141.6M145.31 871.2V1141.6M151.5 871.2V1141.6M156.97 871.2V1141.6M161.85 871.2V1141.6M193.98 871.2V1141.6M212.78 871.2V1141.6M226.12 871.2V1141.6M236.47 871.2V1141.6M244.92 871.2V1141.6M252.06 871.2V1141.6M258.25 871.2V1141.6M263.72 871.2V1141.6M268.6 871.2V1141.6M300.73 871.2V1141.6M319.53 871.2V1141.6M332.87 871.2V1141.6M343.22 871.2V1141.6M351.67 871.2V1141.6M358.81 871.2V1141.6M365 871.2V1141.6M370.47 871.2V1141.6M375.35 871.2V1141.6M407.48 871.2V1141.6M426.28 871.2V1141.6M439.62 871.2V1141.6M449.97 871.2V1141.6M458.42 871.2V1141.6M465.56 871.2V1141.6M471.75 871.2V1141.6M477.22 871.2V1141.6" stroke="#c4c4c4" stroke-width="1.3" fill="none"/>
<path d="M55.1 1114.9H482.1M55.1 1060.8H482.1M55.1 1006.7H482.1M55.1 952.6H482.1M55.1 898.5H482.1" stroke="#cecece" stroke-width="1.1" fill="none"/>
<rect x="311.5" y="986.2" width="140.5" height="44.5" fill="#fff"/>
<rect x="55.1" y="871.2" width="427" height="270.4" fill="none" stroke="#787878" stroke-width="2.3"/>
<polyline points="55.1,896.88 76.45,922.85 97.8,951.79 119.15,982.36 140.5,1012.65 161.85,1039.97 183.2,1062.42 204.55,1079.74 225.9,1091.64 247.25,1099.75 268.6,1105.43 289.95,1108.95 311.3,1111.65 332.65,1113.01 354,1114.36 375.35,1114.63 396.7,1114.9 418.05,1114.9 439.4,1114.9 460.75,1114.9 482.1,1114.9" fill="none" stroke="#0000ff" stroke-width="2.5" stroke-linejoin="round"/>
<path d="M55.1 892.68V901.08M51.53 893.31L58.67 900.45M51.53 900.45L58.67 893.31" stroke="#0000ff" stroke-width="1.8" fill="none"/>
<path d="M76.45 918.64V927.05M72.88 919.27L80.02 926.42M72.88 926.42L80.02 919.27" stroke="#0000ff" stroke-width="1.8" fill="none"/>
<path d="M97.8 947.59V955.99M94.23 948.22L101.37 955.36M94.23 955.36L101.37 948.22" stroke="#0000ff" stroke-width="1.8" fill="none"/>
<path d="M119.15 978.15V986.56M115.58 978.78L122.72 985.93M115.58 985.93L122.72 978.78" stroke="#0000ff" stroke-width="1.8" fill="none"/>
<path d="M140.5 1008.45V1016.85M136.93 1009.08L144.07 1016.22M136.93 1016.22L144.07 1009.08" stroke="#0000ff" stroke-width="1.8" fill="none"/>
<path d="M161.85 1035.77V1044.17M158.28 1036.4L165.42 1043.54M158.28 1043.54L165.42 1036.4" stroke="#0000ff" stroke-width="1.8" fill="none"/>
<path d="M183.2 1058.22V1066.62M179.63 1058.85L186.77 1065.99M179.63 1065.99L186.77 1058.85" stroke="#0000ff" stroke-width="1.8" fill="none"/>
<path d="M204.55 1075.54V1083.94M200.98 1076.17L208.12 1083.31M200.98 1083.31L208.12 1076.17" stroke="#0000ff" stroke-width="1.8" fill="none"/>
<path d="M225.9 1087.44V1095.84M222.33 1088.07L229.47 1095.21M222.33 1095.21L229.47 1088.07" stroke="#0000ff" stroke-width="1.8" fill="none"/>
<path d="M247.25 1095.55V1103.95M243.68 1096.18L250.82 1103.32M243.68 1103.32L250.82 1096.18" stroke="#0000ff" stroke-width="1.8" fill="none"/>
<path d="M268.6 1101.23V1109.63M265.03 1101.86L272.17 1109M265.03 1109L272.17 1101.86" stroke="#0000ff" stroke-width="1.8" fill="none"/>
<path d="M289.95 1104.75V1113.15M286.38 1105.38L293.52 1112.52M286.38 1112.52L293.52 1105.38" stroke="#0000ff" stroke-width="1.8" fill="none"/>
<path d="M311.3 1107.45V1115.85M307.73 1108.08L314.87 1115.22M307.73 1115.22L314.87 1108.08" stroke="#0000ff" stroke-width="1.8" fill="none"/>
<path d="M332.65 1108.81V1117.21M329.08 1109.44L336.22 1116.58M329.08 1116.58L336.22 1109.44" stroke="#0000ff" stroke-width="1.8" fill="none"/>
<path d="M354 1110.16V1118.56M350.43 1110.79L357.57 1117.93M350.43 1117.93L357.57 1110.79" stroke="#0000ff" stroke-width="1.8" fill="none"/>
<path d="M375.35 1110.43V1118.83M371.78 1111.06L378.92 1118.2M371.78 1118.2L378.92 1111.06" stroke="#0000ff" stroke-width="1.8" fill="none"/>
<path d="M396.7 1110.7V1119.1M393.13 1111.33L400.27 1118.47M393.13 1118.47L400.27 1111.33" stroke="#0000ff" stroke-width="1.8" fill="none"/>
<path d="M418.05 1110.7V1119.1M414.48 1111.33L421.62 1118.47M414.48 1118.47L421.62 1111.33" stroke="#0000ff" stroke-width="1.8" fill="none"/>
<path d="M439.4 1110.7V1119.1M435.83 1111.33L442.97 1118.47M435.83 1118.47L442.97 1111.33" stroke="#0000ff" stroke-width="1.8" fill="none"/>
<path d="M460.75 1110.7V1119.1M457.18 1111.33L464.32 1118.47M457.18 1118.47L464.32 1111.33" stroke="#0000ff" stroke-width="1.8" fill="none"/>
<path d="M482.1 1110.7V1119.1M478.53 1111.33L485.67 1118.47M478.53 1118.47L485.67 1111.33" stroke="#0000ff" stroke-width="1.8" fill="none"/>
<polyline points="55.1,1045.11 76.45,1062.42 97.8,1076.49 119.15,1086.23 140.5,1095.42 161.85,1100.83 183.2,1105.16 204.55,1108.41 225.9,1110.03 247.25,1111.65 268.6,1113.01 289.95,1113.82 311.3,1114.36 332.65,1114.63 354,1114.9 375.35,1114.9 396.7,1114.9 418.05,1114.9 439.4,1114.9 460.75,1114.9 482.1,1114.9" fill="none" stroke="#104a88" stroke-width="2.5" stroke-linejoin="round"/>
<circle cx="55.1" cy="1045.11" r="4.4" fill="#104a88"/>
<circle cx="55.1" cy="1045.11" r="2.3" fill="#1c3b66"/>
<circle cx="76.45" cy="1062.42" r="4.4" fill="#104a88"/>
<circle cx="76.45" cy="1062.42" r="2.3" fill="#1c3b66"/>
<circle cx="97.8" cy="1076.49" r="4.4" fill="#104a88"/>
<circle cx="97.8" cy="1076.49" r="2.3" fill="#1c3b66"/>
<circle cx="119.15" cy="1086.23" r="4.4" fill="#104a88"/>
<circle cx="119.15" cy="1086.23" r="2.3" fill="#1c3b66"/>
<circle cx="140.5" cy="1095.42" r="4.4" fill="#104a88"/>
<circle cx="140.5" cy="1095.42" r="2.3" fill="#1c3b66"/>
<circle cx="161.85" cy="1100.83" r="4.4" fill="#104a88"/>
<circle cx="161.85" cy="1100.83" r="2.3" fill="#1c3b66"/>
<circle cx="183.2" cy="1105.16" r="4.4" fill="#104a88"/>
<circle cx="183.2" cy="1105.16" r="2.3" fill="#1c3b66"/>
<circle cx="204.55" cy="1108.41" r="4.4" fill="#104a88"/>
<circle cx="204.55" cy="1108.41" r="2.3" fill="#1c3b66"/>
<circle cx="225.9" cy="1110.03" r="4.4" fill="#104a88"/>
<circle cx="225.9" cy="1110.03" r="2.3" fill="#1c3b66"/>
<circle cx="247.25" cy="1111.65" r="4.4" fill="#104a88"/>
<circle cx="247.25" cy="1111.65" r="2.3" fill="#1c3b66"/>
<circle cx="268.6" cy="1113.01" r="4.4" fill="#104a88"/>
<circle cx="268.6" cy="1113.01" r="2.3" fill="#1c3b66"/>
<circle cx="289.95" cy="1113.82" r="4.4" fill="#104a88"/>
<circle cx="289.95" cy="1113.82" r="2.3" fill="#1c3b66"/>
<circle cx="311.3" cy="1114.36" r="4.4" fill="#104a88"/>
<circle cx="311.3" cy="1114.36" r="2.3" fill="#1c3b66"/>
<circle cx="332.65" cy="1114.63" r="4.4" fill="#104a88"/>
<circle cx="332.65" cy="1114.63" r="2.3" fill="#1c3b66"/>
<circle cx="354" cy="1114.9" r="4.4" fill="#104a88"/>
<circle cx="354" cy="1114.9" r="2.3" fill="#1c3b66"/>
<circle cx="375.35" cy="1114.9" r="4.4" fill="#104a88"/>
<circle cx="375.35" cy="1114.9" r="2.3" fill="#1c3b66"/>
<circle cx="396.7" cy="1114.9" r="4.4" fill="#104a88"/>
<circle cx="396.7" cy="1114.9" r="2.3" fill="#1c3b66"/>
<circle cx="418.05" cy="1114.9" r="4.4" fill="#104a88"/>
<circle cx="418.05" cy="1114.9" r="2.3" fill="#1c3b66"/>
<circle cx="439.4" cy="1114.9" r="4.4" fill="#104a88"/>
<circle cx="439.4" cy="1114.9" r="2.3" fill="#1c3b66"/>
<circle cx="460.75" cy="1114.9" r="4.4" fill="#104a88"/>
<circle cx="460.75" cy="1114.9" r="2.3" fill="#1c3b66"/>
<circle cx="482.1" cy="1114.9" r="4.4" fill="#104a88"/>
<circle cx="482.1" cy="1114.9" r="2.3" fill="#1c3b66"/>
<polyline points="55.1,1072.16 76.45,1088.93 97.8,1099.75 119.15,1106.24 140.5,1110.03 161.85,1112.2 183.2,1113.28 204.55,1114.09 225.9,1114.36 247.25,1114.63 268.6,1114.63 289.95,1114.9 311.3,1114.9 332.65,1114.9 354,1114.9 375.35,1114.9 396.7,1114.9 418.05,1114.9 439.4,1114.9 460.75,1114.9 482.1,1114.9" fill="none" stroke="#00b050" stroke-width="2.5" stroke-linejoin="round"/>
<polygon points="55.1,1067.16 60.1,1072.16 55.1,1077.16 50.1,1072.16" fill="#00b050"/>
<polygon points="76.45,1083.93 81.45,1088.93 76.45,1093.93 71.45,1088.93" fill="#00b050"/>
<polygon points="97.8,1094.75 102.8,1099.75 97.8,1104.75 92.8,1099.75" fill="#00b050"/>
<polygon points="119.15,1101.24 124.15,1106.24 119.15,1111.24 114.15,1106.24" fill="#00b050"/>
<polygon points="140.5,1105.03 145.5,1110.03 140.5,1115.03 135.5,1110.03" fill="#00b050"/>
<polygon points="161.85,1107.2 166.85,1112.2 161.85,1117.2 156.85,1112.2" fill="#00b050"/>
<polygon points="183.2,1108.28 188.2,1113.28 183.2,1118.28 178.2,1113.28" fill="#00b050"/>
<polygon points="204.55,1109.09 209.55,1114.09 204.55,1119.09 199.55,1114.09" fill="#00b050"/>
<polygon points="225.9,1109.36 230.9,1114.36 225.9,1119.36 220.9,1114.36" fill="#00b050"/>
<polygon points="247.25,1109.63 252.25,1114.63 247.25,1119.63 242.25,1114.63" fill="#00b050"/>
<polygon points="268.6,1109.63 273.6,1114.63 268.6,1119.63 263.6,1114.63" fill="#00b050"/>
<polygon points="289.95,1109.9 294.95,1114.9 289.95,1119.9 284.95,1114.9" fill="#00b050"/>
<polygon points="311.3,1109.9 316.3,1114.9 311.3,1119.9 306.3,1114.9" fill="#00b050"/>
<polygon points="332.65,1109.9 337.65,1114.9 332.65,1119.9 327.65,1114.9" fill="#00b050"/>
<polygon points="354,1109.9 359,1114.9 354,1119.9 349,1114.9" fill="#00b050"/>
<polygon points="375.35,1109.9 380.35,1114.9 375.35,1119.9 370.35,1114.9" fill="#00b050"/>
<polygon points="396.7,1109.9 401.7,1114.9 396.7,1119.9 391.7,1114.9" fill="#00b050"/>
<polygon points="418.05,1109.9 423.05,1114.9 418.05,1119.9 413.05,1114.9" fill="#00b050"/>
<polygon points="439.4,1109.9 444.4,1114.9 439.4,1119.9 434.4,1114.9" fill="#00b050"/>
<polygon points="460.75,1109.9 465.75,1114.9 460.75,1119.9 455.75,1114.9" fill="#00b050"/>
<polygon points="482.1,1109.9 487.1,1114.9 482.1,1119.9 477.1,1114.9" fill="#00b050"/>
<polyline points="55.1,1074.33 76.45,1091.1 97.8,1101.92 119.15,1107.87 140.5,1111.38 161.85,1113.28 183.2,1114.36 204.55,1114.63 225.9,1114.9 247.25,1114.9 268.6,1114.9 289.95,1114.9 311.3,1114.9 332.65,1114.9 354,1114.9 375.35,1114.9 396.7,1114.9 418.05,1114.9 439.4,1114.9 460.75,1114.9 482.1,1114.9" fill="none" stroke="#ff3300" stroke-width="2.5" stroke-linejoin="round"/>
<polygon points="55.1,1069.5 59.7,1078.01 50.5,1078.01" fill="#ff3300"/>
<polygon points="76.45,1086.27 81.05,1094.78 71.85,1094.78" fill="#ff3300"/>
<polygon points="97.8,1097.09 102.4,1105.6 93.2,1105.6" fill="#ff3300"/>
<polygon points="119.15,1103.04 123.75,1111.55 114.55,1111.55" fill="#ff3300"/>
<polygon points="140.5,1106.55 145.1,1115.06 135.9,1115.06" fill="#ff3300"/>
<polygon points="161.85,1108.45 166.45,1116.96 157.25,1116.96" fill="#ff3300"/>
<polygon points="183.2,1109.53 187.8,1118.04 178.6,1118.04" fill="#ff3300"/>
<polygon points="204.55,1109.8 209.15,1118.31 199.95,1118.31" fill="#ff3300"/>
<polygon points="225.9,1110.07 230.5,1118.58 221.3,1118.58" fill="#ff3300"/>
<polygon points="247.25,1110.07 251.85,1118.58 242.65,1118.58" fill="#ff3300"/>
<polygon points="268.6,1110.07 273.2,1118.58 264,1118.58" fill="#ff3300"/>
<polygon points="289.95,1110.07 294.55,1118.58 285.35,1118.58" fill="#ff3300"/>
<polygon points="311.3,1110.07 315.9,1118.58 306.7,1118.58" fill="#ff3300"/>
<polygon points="332.65,1110.07 337.25,1118.58 328.05,1118.58" fill="#ff3300"/>
<polygon points="354,1110.07 358.6,1118.58 349.4,1118.58" fill="#ff3300"/>
<polygon points="375.35,1110.07 379.95,1118.58 370.75,1118.58" fill="#ff3300"/>
<polygon points="396.7,1110.07 401.3,1118.58 392.1,1118.58" fill="#ff3300"/>
<polygon points="418.05,1110.07 422.65,1118.58 413.45,1118.58" fill="#ff3300"/>
<polygon points="439.4,1110.07 444,1118.58 434.8,1118.58" fill="#ff3300"/>
<polygon points="460.75,1110.07 465.35,1118.58 456.15,1118.58" fill="#ff3300"/>
<polygon points="482.1,1110.07 486.7,1118.58 477.5,1118.58" fill="#ff3300"/>
<polyline points="55.1,1074.87 76.45,1091.64 97.8,1102.46 119.15,1108.41 140.5,1111.82 161.85,1113.6 183.2,1114.63 204.55,1114.9 225.9,1115.17 247.25,1115.17 268.6,1115.17 289.95,1115.17 311.3,1115.17 332.65,1115.17 354,1115.17 375.35,1115.17 396.7,1115.17 418.05,1115.17 439.4,1115.17 460.75,1115.17 482.1,1115.17" fill="none" stroke="#000" stroke-width="2.5" stroke-linejoin="round"/>
<rect x="51.2" y="1070.97" width="7.8" height="7.8" fill="#000"/>
<rect x="72.55" y="1087.74" width="7.8" height="7.8" fill="#000"/>
<rect x="93.9" y="1098.56" width="7.8" height="7.8" fill="#000"/>
<rect x="115.25" y="1104.51" width="7.8" height="7.8" fill="#000"/>
<rect x="136.6" y="1107.92" width="7.8" height="7.8" fill="#000"/>
<rect x="157.95" y="1109.7" width="7.8" height="7.8" fill="#000"/>
<rect x="179.3" y="1110.73" width="7.8" height="7.8" fill="#000"/>
<rect x="200.65" y="1111" width="7.8" height="7.8" fill="#000"/>
<rect x="222" y="1111.27" width="7.8" height="7.8" fill="#000"/>
<rect x="243.35" y="1111.27" width="7.8" height="7.8" fill="#000"/>
<rect x="264.7" y="1111.27" width="7.8" height="7.8" fill="#000"/>
<rect x="286.05" y="1111.27" width="7.8" height="7.8" fill="#000"/>
<rect x="307.4" y="1111.27" width="7.8" height="7.8" fill="#000"/>
<rect x="328.75" y="1111.27" width="7.8" height="7.8" fill="#000"/>
<rect x="350.1" y="1111.27" width="7.8" height="7.8" fill="#000"/>
<rect x="371.45" y="1111.27" width="7.8" height="7.8" fill="#000"/>
<rect x="392.8" y="1111.27" width="7.8" height="7.8" fill="#000"/>
<rect x="414.15" y="1111.27" width="7.8" height="7.8" fill="#000"/>
<rect x="435.5" y="1111.27" width="7.8" height="7.8" fill="#000"/>
<rect x="456.85" y="1111.27" width="7.8" height="7.8" fill="#000"/>
<rect x="478.2" y="1111.27" width="7.8" height="7.8" fill="#000"/>
<rect x="304.4" y="893.9" width="153.4" height="92.3" fill="#fff" stroke="#7f7f7f" stroke-width="1.3"/>
<path d="M314.6 906.3H347.8" stroke="#000" stroke-width="2" fill="none"/>
<rect x="326.51" y="901.81" width="8.97" height="8.97" fill="#000"/>
<text x="351.5" y="911" font-size="14" font-weight="bold" fill="#000" text-anchor="start"><tspan>R</tspan><tspan dy="2.2" font-size="9.5">ADJ</tspan><tspan dy="-2.2"> = 1000kΩ</tspan></text>
<path d="M314.6 923.1H347.8" stroke="#ff5050" stroke-width="2" fill="none"/>
<polygon points="331,917.55 336.29,927.33 325.71,927.33" fill="#ff5050"/>
<text x="351.5" y="927.8" font-size="14" font-weight="bold" fill="#000" text-anchor="start"><tspan>R</tspan><tspan dy="2.2" font-size="9.5">ADJ</tspan><tspan dy="-2.2"> = 100kΩ</tspan></text>
<path d="M314.6 940H347.8" stroke="#00b050" stroke-width="2" fill="none"/>
<polygon points="331,934.25 336.75,940 331,945.75 325.25,940" fill="#00b050"/>
<text x="351.5" y="944.7" font-size="14" font-weight="bold" fill="#000" text-anchor="start"><tspan>R</tspan><tspan dy="2.2" font-size="9.5">ADJ</tspan><tspan dy="-2.2"> = 10kΩ</tspan></text>
<path d="M314.6 956.9H347.8" stroke="#1f4e79" stroke-width="2" fill="none"/>
<circle cx="331" cy="956.9" r="5.06" fill="#1f4e79"/>
<text x="351.5" y="961.6" font-size="14" font-weight="bold" fill="#000" text-anchor="start"><tspan>R</tspan><tspan dy="2.2" font-size="9.5">ADJ</tspan><tspan dy="-2.2"> = 1kΩ</tspan></text>
<path d="M314.6 973.7H347.8" stroke="#0000ff" stroke-width="2" fill="none"/>
<path d="M331 968.87V978.53M326.89 969.59L335.11 977.81M326.89 977.81L335.11 969.59" stroke="#0000ff" stroke-width="2.07" fill="none"/>
<text x="351.5" y="978.4" font-size="14" font-weight="bold" fill="#000" text-anchor="start"><tspan>R</tspan><tspan dy="2.2" font-size="9.5">ADJ</tspan><tspan dy="-2.2"> = 0.1kΩ</tspan></text>
<text x="317.1" y="1002.4" font-size="15.3" font-weight="bold" fill="#000" text-anchor="start"># of row = 10</text>
<text x="317.1" y="1020.9" font-size="15.3" font-weight="bold" fill="#000" text-anchor="start"># of column = 10</text>
<text x="48.3" y="1121.2" font-size="17.8" font-weight="bold" fill="#000" text-anchor="end">0</text>
<text x="48.3" y="1067.1" font-size="17.8" font-weight="bold" fill="#000" text-anchor="end">10</text>
<text x="48.3" y="1013" font-size="17.8" font-weight="bold" fill="#000" text-anchor="end">20</text>
<text x="48.3" y="958.9" font-size="17.8" font-weight="bold" fill="#000" text-anchor="end">30</text>
<text x="48.3" y="904.8" font-size="17.8" font-weight="bold" fill="#000" text-anchor="end">40</text>
<text x="41.5" y="1162.2" font-size="17.6" font-weight="bold" fill="#000" text-anchor="start"><tspan>10</tspan><tspan dy="-7.5" font-size="12">2</tspan></text>
<text x="148.25" y="1162.2" font-size="17.6" font-weight="bold" fill="#000" text-anchor="start"><tspan>10</tspan><tspan dy="-7.5" font-size="12">3</tspan></text>
<text x="255" y="1162.2" font-size="17.6" font-weight="bold" fill="#000" text-anchor="start"><tspan>10</tspan><tspan dy="-7.5" font-size="12">4</tspan></text>
<text x="361.75" y="1162.2" font-size="17.6" font-weight="bold" fill="#000" text-anchor="start"><tspan>10</tspan><tspan dy="-7.5" font-size="12">5</tspan></text>
<text x="468.5" y="1162.2" font-size="17.6" font-weight="bold" fill="#000" text-anchor="start"><tspan>10</tspan><tspan dy="-7.5" font-size="12">6</tspan></text>
<text x="265.6" y="1179.6" font-size="18.2" font-weight="bold" fill="#000" text-anchor="middle">Target Sensor Resistance (Ω)</text>
<text x="20.6" y="1008.8" font-size="18.2" font-weight="bold" fill="#000" text-anchor="middle" transform="rotate(-90 20.6 1008.8)">Error (%)</text>
</g>
<text x="253.5" y="1212.5" font-size="24" font-weight="normal" fill="#000" text-anchor="middle" font-family='"Liberation Serif", serif'><tspan>(</tspan><tspan font-weight="bold">d</tspan><tspan>)</tspan></text>
<g font-family='"Liberation Sans", sans-serif'>
<path d="M606.18 872.95V1141.55M624.98 872.95V1141.55M638.31 872.95V1141.55M648.66 872.95V1141.55M657.11 872.95V1141.55M664.25 872.95V1141.55M670.44 872.95V1141.55M675.9 872.95V1141.55M680.79 872.95V1141.55M712.92 872.95V1141.55M731.71 872.95V1141.55M745.05 872.95V1141.55M755.39 872.95V1141.55M763.85 872.95V1141.55M770.99 872.95V1141.55M777.18 872.95V1141.55M782.64 872.95V1141.55M787.52 872.95V1141.55M819.66 872.95V1141.55M838.45 872.95V1141.55M851.79 872.95V1141.55M862.13 872.95V1141.55M870.58 872.95V1141.55M877.73 872.95V1141.55M883.92 872.95V1141.55M889.38 872.95V1141.55M894.26 872.95V1141.55M926.39 872.95V1141.55M945.19 872.95V1141.55M958.52 872.95V1141.55M968.87 872.95V1141.55M977.32 872.95V1141.55M984.47 872.95V1141.55M990.66 872.95V1141.55M996.12 872.95V1141.55" stroke="#c4c4c4" stroke-width="1.3" fill="none"/>
<path d="M574.05 1115.4H1001M574.05 1061.4H1001M574.05 1007.4H1001M574.05 953.4H1001M574.05 899.4H1001" stroke="#cecece" stroke-width="1.1" fill="none"/>
<rect x="836.5" y="987.5" width="140.5" height="21.5" fill="#fff"/>
<rect x="574.05" y="872.95" width="426.95" height="268.6" fill="none" stroke="#787878" stroke-width="2.3"/>
<polyline points="574.05,897.78 595.4,923.7 616.75,952.32 638.09,982.56 659.44,1012.8 680.79,1038.72 702.13,1060.32 723.48,1077.6 744.83,1089.48 766.18,1098.12 787.52,1103.52 808.87,1107.3 830.22,1110.27 851.57,1112.43 872.91,1113.78 894.26,1114.32 915.61,1114.86 936.96,1114.86 958.31,1115.13 979.65,1115.13 1001,1115.13" fill="none" stroke="#0000ff" stroke-width="2.5" stroke-linejoin="round"/>
<path d="M574.05 893.58V901.98M570.48 894.21L577.62 901.35M570.48 901.35L577.62 894.21" stroke="#0000ff" stroke-width="1.8" fill="none"/>
<path d="M595.4 919.5V927.9M591.83 920.13L598.97 927.27M591.83 927.27L598.97 920.13" stroke="#0000ff" stroke-width="1.8" fill="none"/>
<path d="M616.75 948.12V956.52M613.17 948.75L620.32 955.89M613.17 955.89L620.32 948.75" stroke="#0000ff" stroke-width="1.8" fill="none"/>
<path d="M638.09 978.36V986.76M634.52 978.99L641.66 986.13M634.52 986.13L641.66 978.99" stroke="#0000ff" stroke-width="1.8" fill="none"/>
<path d="M659.44 1008.6V1017M655.87 1009.23L663.01 1016.37M655.87 1016.37L663.01 1009.23" stroke="#0000ff" stroke-width="1.8" fill="none"/>
<path d="M680.79 1034.52V1042.92M677.22 1035.15L684.36 1042.29M677.22 1042.29L684.36 1035.15" stroke="#0000ff" stroke-width="1.8" fill="none"/>
<path d="M702.13 1056.12V1064.52M698.56 1056.75L705.71 1063.89M698.56 1063.89L705.71 1056.75" stroke="#0000ff" stroke-width="1.8" fill="none"/>
<path d="M723.48 1073.4V1081.8M719.91 1074.03L727.05 1081.17M719.91 1081.17L727.05 1074.03" stroke="#0000ff" stroke-width="1.8" fill="none"/>
<path d="M744.83 1085.28V1093.68M741.26 1085.91L748.4 1093.05M741.26 1093.05L748.4 1085.91" stroke="#0000ff" stroke-width="1.8" fill="none"/>
<path d="M766.18 1093.92V1102.32M762.61 1094.55L769.75 1101.69M762.61 1101.69L769.75 1094.55" stroke="#0000ff" stroke-width="1.8" fill="none"/>
<path d="M787.52 1099.32V1107.72M783.95 1099.95L791.1 1107.09M783.95 1107.09L791.1 1099.95" stroke="#0000ff" stroke-width="1.8" fill="none"/>
<path d="M808.87 1103.1V1111.5M805.3 1103.73L812.44 1110.87M805.3 1110.87L812.44 1103.73" stroke="#0000ff" stroke-width="1.8" fill="none"/>
<path d="M830.22 1106.07V1114.47M826.65 1106.7L833.79 1113.84M826.65 1113.84L833.79 1106.7" stroke="#0000ff" stroke-width="1.8" fill="none"/>
<path d="M851.57 1108.23V1116.63M848 1108.86L855.14 1116M848 1116L855.14 1108.86" stroke="#0000ff" stroke-width="1.8" fill="none"/>
<path d="M872.91 1109.58V1117.98M869.34 1110.21L876.49 1117.35M869.34 1117.35L876.49 1110.21" stroke="#0000ff" stroke-width="1.8" fill="none"/>
<path d="M894.26 1110.12V1118.52M890.69 1110.75L897.83 1117.89M890.69 1117.89L897.83 1110.75" stroke="#0000ff" stroke-width="1.8" fill="none"/>
<path d="M915.61 1110.66V1119.06M912.04 1111.29L919.18 1118.43M912.04 1118.43L919.18 1111.29" stroke="#0000ff" stroke-width="1.8" fill="none"/>
<path d="M936.96 1110.66V1119.06M933.39 1111.29L940.53 1118.43M933.39 1118.43L940.53 1111.29" stroke="#0000ff" stroke-width="1.8" fill="none"/>
<path d="M958.31 1110.93V1119.33M954.74 1111.56L961.88 1118.7M954.74 1118.7L961.88 1111.56" stroke="#0000ff" stroke-width="1.8" fill="none"/>
<path d="M979.65 1110.93V1119.33M976.08 1111.56L983.22 1118.7M976.08 1118.7L983.22 1111.56" stroke="#0000ff" stroke-width="1.8" fill="none"/>
<path d="M1001 1110.93V1119.33M997.43 1111.56L1004.57 1118.7M997.43 1118.7L1004.57 1111.56" stroke="#0000ff" stroke-width="1.8" fill="none"/>
<polyline points="574.05,897.78 595.4,923.7 616.75,952.32 638.09,982.56 659.44,1012.8 680.79,1039.26 702.13,1060.86 723.48,1078.14 744.83,1090.02 766.18,1098.66 787.52,1104.06 808.87,1107.84 830.22,1110.54 851.57,1112.7 872.91,1113.78 894.26,1114.32 915.61,1114.59 936.96,1114.59 958.31,1114.86 979.65,1114.86 1001,1114.86" fill="none" stroke="#104a88" stroke-width="2.5" stroke-linejoin="round"/>
<circle cx="574.05" cy="897.78" r="4.4" fill="#104a88"/>
<circle cx="574.05" cy="897.78" r="2.3" fill="#1c3b66"/>
<circle cx="595.4" cy="923.7" r="4.4" fill="#104a88"/>
<circle cx="595.4" cy="923.7" r="2.3" fill="#1c3b66"/>
<circle cx="616.75" cy="952.32" r="4.4" fill="#104a88"/>
<circle cx="616.75" cy="952.32" r="2.3" fill="#1c3b66"/>
<circle cx="638.09" cy="982.56" r="4.4" fill="#104a88"/>
<circle cx="638.09" cy="982.56" r="2.3" fill="#1c3b66"/>
<circle cx="659.44" cy="1012.8" r="4.4" fill="#104a88"/>
<circle cx="659.44" cy="1012.8" r="2.3" fill="#1c3b66"/>
<circle cx="680.79" cy="1039.26" r="4.4" fill="#104a88"/>
<circle cx="680.79" cy="1039.26" r="2.3" fill="#1c3b66"/>
<circle cx="702.13" cy="1060.86" r="4.4" fill="#104a88"/>
<circle cx="702.13" cy="1060.86" r="2.3" fill="#1c3b66"/>
<circle cx="723.48" cy="1078.14" r="4.4" fill="#104a88"/>
<circle cx="723.48" cy="1078.14" r="2.3" fill="#1c3b66"/>
<circle cx="744.83" cy="1090.02" r="4.4" fill="#104a88"/>
<circle cx="744.83" cy="1090.02" r="2.3" fill="#1c3b66"/>
<circle cx="766.18" cy="1098.66" r="4.4" fill="#104a88"/>
<circle cx="766.18" cy="1098.66" r="2.3" fill="#1c3b66"/>
<circle cx="787.52" cy="1104.06" r="4.4" fill="#104a88"/>
<circle cx="787.52" cy="1104.06" r="2.3" fill="#1c3b66"/>
<circle cx="808.87" cy="1107.84" r="4.4" fill="#104a88"/>
<circle cx="808.87" cy="1107.84" r="2.3" fill="#1c3b66"/>
<circle cx="830.22" cy="1110.54" r="4.4" fill="#104a88"/>
<circle cx="830.22" cy="1110.54" r="2.3" fill="#1c3b66"/>
<circle cx="851.57" cy="1112.7" r="4.4" fill="#104a88"/>
<circle cx="851.57" cy="1112.7" r="2.3" fill="#1c3b66"/>
<circle cx="872.91" cy="1113.78" r="4.4" fill="#104a88"/>
<circle cx="872.91" cy="1113.78" r="2.3" fill="#1c3b66"/>
<circle cx="894.26" cy="1114.32" r="4.4" fill="#104a88"/>
<circle cx="894.26" cy="1114.32" r="2.3" fill="#1c3b66"/>
<circle cx="915.61" cy="1114.59" r="4.4" fill="#104a88"/>
<circle cx="915.61" cy="1114.59" r="2.3" fill="#1c3b66"/>
<circle cx="936.96" cy="1114.59" r="4.4" fill="#104a88"/>
<circle cx="936.96" cy="1114.59" r="2.3" fill="#1c3b66"/>
<circle cx="958.31" cy="1114.86" r="4.4" fill="#104a88"/>
<circle cx="958.31" cy="1114.86" r="2.3" fill="#1c3b66"/>
<circle cx="979.65" cy="1114.86" r="4.4" fill="#104a88"/>
<circle cx="979.65" cy="1114.86" r="2.3" fill="#1c3b66"/>
<circle cx="1001" cy="1114.86" r="4.4" fill="#104a88"/>
<circle cx="1001" cy="1114.86" r="2.3" fill="#1c3b66"/>
<polyline points="574.05,897.78 595.4,923.7 616.75,952.32 638.09,982.56 659.44,1012.8 680.79,1039.26 702.13,1060.86 723.48,1078.68 744.83,1090.56 766.18,1099.2 787.52,1105.14 808.87,1108.92 830.22,1111.08 851.57,1112.97 872.91,1114.05 894.26,1114.32 915.61,1114.32 936.96,1114.32 958.31,1114.32 979.65,1114.32 1001,1114.32" fill="none" stroke="#00b050" stroke-width="2.5" stroke-linejoin="round"/>
<polygon points="574.05,892.78 579.05,897.78 574.05,902.78 569.05,897.78" fill="#00b050"/>
<polygon points="595.4,918.7 600.4,923.7 595.4,928.7 590.4,923.7" fill="#00b050"/>
<polygon points="616.75,947.32 621.75,952.32 616.75,957.32 611.75,952.32" fill="#00b050"/>
<polygon points="638.09,977.56 643.09,982.56 638.09,987.56 633.09,982.56" fill="#00b050"/>
<polygon points="659.44,1007.8 664.44,1012.8 659.44,1017.8 654.44,1012.8" fill="#00b050"/>
<polygon points="680.79,1034.26 685.79,1039.26 680.79,1044.26 675.79,1039.26" fill="#00b050"/>
<polygon points="702.13,1055.86 707.13,1060.86 702.13,1065.86 697.13,1060.86" fill="#00b050"/>
<polygon points="723.48,1073.68 728.48,1078.68 723.48,1083.68 718.48,1078.68" fill="#00b050"/>
<polygon points="744.83,1085.56 749.83,1090.56 744.83,1095.56 739.83,1090.56" fill="#00b050"/>
<polygon points="766.18,1094.2 771.18,1099.2 766.18,1104.2 761.18,1099.2" fill="#00b050"/>
<polygon points="787.52,1100.14 792.52,1105.14 787.52,1110.14 782.52,1105.14" fill="#00b050"/>
<polygon points="808.87,1103.92 813.87,1108.92 808.87,1113.92 803.87,1108.92" fill="#00b050"/>
<polygon points="830.22,1106.08 835.22,1111.08 830.22,1116.08 825.22,1111.08" fill="#00b050"/>
<polygon points="851.57,1107.97 856.57,1112.97 851.57,1117.97 846.57,1112.97" fill="#00b050"/>
<polygon points="872.91,1109.05 877.91,1114.05 872.91,1119.05 867.91,1114.05" fill="#00b050"/>
<polygon points="894.26,1109.32 899.26,1114.32 894.26,1119.32 889.26,1114.32" fill="#00b050"/>
<polygon points="915.61,1109.32 920.61,1114.32 915.61,1119.32 910.61,1114.32" fill="#00b050"/>
<polygon points="936.96,1109.32 941.96,1114.32 936.96,1119.32 931.96,1114.32" fill="#00b050"/>
<polygon points="958.31,1109.32 963.31,1114.32 958.31,1119.32 953.31,1114.32" fill="#00b050"/>
<polygon points="979.65,1109.32 984.65,1114.32 979.65,1119.32 974.65,1114.32" fill="#00b050"/>
<polygon points="1001,1109.32 1006,1114.32 1001,1119.32 996,1114.32" fill="#00b050"/>
<polyline points="574.05,898.32 595.4,924.78 616.75,953.94 638.09,984.18 659.44,1014.42 680.79,1041.42 702.13,1063.56 723.48,1080.3 744.83,1092.72 766.18,1101.36 787.52,1107.3 808.87,1111.08 830.22,1113.78 851.57,1114.86 872.91,1115.13 894.26,1114.86 915.61,1114.32 936.96,1114.05 958.31,1113.78 979.65,1113.78 1001,1113.78" fill="none" stroke="#ff3300" stroke-width="2.5" stroke-linejoin="round"/>
<polygon points="574.05,893.49 578.65,902 569.45,902" fill="#ff3300"/>
<polygon points="595.4,919.95 600,928.46 590.8,928.46" fill="#ff3300"/>
<polygon points="616.75,949.11 621.35,957.62 612.14,957.62" fill="#ff3300"/>
<polygon points="638.09,979.35 642.69,987.86 633.49,987.86" fill="#ff3300"/>
<polygon points="659.44,1009.59 664.04,1018.1 654.84,1018.1" fill="#ff3300"/>
<polygon points="680.79,1036.59 685.39,1045.1 676.19,1045.1" fill="#ff3300"/>
<polygon points="702.13,1058.73 706.74,1067.24 697.53,1067.24" fill="#ff3300"/>
<polygon points="723.48,1075.47 728.08,1083.98 718.88,1083.98" fill="#ff3300"/>
<polygon points="744.83,1087.89 749.43,1096.4 740.23,1096.4" fill="#ff3300"/>
<polygon points="766.18,1096.53 770.78,1105.04 761.58,1105.04" fill="#ff3300"/>
<polygon points="787.52,1102.47 792.12,1110.98 782.92,1110.98" fill="#ff3300"/>
<polygon points="808.87,1106.25 813.47,1114.76 804.27,1114.76" fill="#ff3300"/>
<polygon points="830.22,1108.95 834.82,1117.46 825.62,1117.46" fill="#ff3300"/>
<polygon points="851.57,1110.03 856.17,1118.54 846.97,1118.54" fill="#ff3300"/>
<polygon points="872.91,1110.3 877.51,1118.81 868.31,1118.81" fill="#ff3300"/>
<polygon points="894.26,1110.03 898.86,1118.54 889.66,1118.54" fill="#ff3300"/>
<polygon points="915.61,1109.49 920.21,1118 911.01,1118" fill="#ff3300"/>
<polygon points="936.96,1109.22 941.56,1117.73 932.36,1117.73" fill="#ff3300"/>
<polygon points="958.31,1108.95 962.91,1117.46 953.71,1117.46" fill="#ff3300"/>
<polygon points="979.65,1108.95 984.25,1117.46 975.05,1117.46" fill="#ff3300"/>
<polygon points="1001,1108.95 1005.6,1117.46 996.4,1117.46" fill="#ff3300"/>
<polyline points="574.05,898.32 595.4,924.78 616.75,953.94 638.09,984.18 659.44,1014.42 680.79,1041.96 702.13,1064.1 723.48,1080.84 744.83,1092.72 766.18,1101.36 787.52,1107.52 808.87,1111.08 830.22,1113.78 851.57,1113.51 872.91,1113.24 894.26,1112.7 915.61,1112.16 936.96,1111.89 958.31,1111.89 979.65,1111.62 1001,1111.62" fill="none" stroke="#000" stroke-width="2.5" stroke-linejoin="round"/>
<rect x="570.15" y="894.42" width="7.8" height="7.8" fill="#000"/>
<rect x="591.5" y="920.88" width="7.8" height="7.8" fill="#000"/>
<rect x="612.85" y="950.04" width="7.8" height="7.8" fill="#000"/>
<rect x="634.19" y="980.28" width="7.8" height="7.8" fill="#000"/>
<rect x="655.54" y="1010.52" width="7.8" height="7.8" fill="#000"/>
<rect x="676.89" y="1038.06" width="7.8" height="7.8" fill="#000"/>
<rect x="698.24" y="1060.2" width="7.8" height="7.8" fill="#000"/>
<rect x="719.58" y="1076.94" width="7.8" height="7.8" fill="#000"/>
<rect x="740.93" y="1088.82" width="7.8" height="7.8" fill="#000"/>
<rect x="762.28" y="1097.46" width="7.8" height="7.8" fill="#000"/>
<rect x="783.62" y="1103.62" width="7.8" height="7.8" fill="#000"/>
<rect x="804.97" y="1107.18" width="7.8" height="7.8" fill="#000"/>
<rect x="826.32" y="1109.88" width="7.8" height="7.8" fill="#000"/>
<rect x="847.67" y="1109.61" width="7.8" height="7.8" fill="#000"/>
<rect x="869.01" y="1109.34" width="7.8" height="7.8" fill="#000"/>
<rect x="890.36" y="1108.8" width="7.8" height="7.8" fill="#000"/>
<rect x="911.71" y="1108.26" width="7.8" height="7.8" fill="#000"/>
<rect x="933.06" y="1107.99" width="7.8" height="7.8" fill="#000"/>
<rect x="954.41" y="1107.99" width="7.8" height="7.8" fill="#000"/>
<rect x="975.75" y="1107.72" width="7.8" height="7.8" fill="#000"/>
<rect x="997.1" y="1107.72" width="7.8" height="7.8" fill="#000"/>
<rect x="835.2" y="892.7" width="141.4" height="93.7" fill="#fff" stroke="#7f7f7f" stroke-width="1.3"/>
<path d="M845.4 905H878.6" stroke="#000" stroke-width="2" fill="none"/>
<rect x="857.51" y="900.51" width="8.97" height="8.97" fill="#000"/>
<text x="882.1" y="909.8" font-size="14" font-weight="bold" fill="#000" text-anchor="start"># of row = 30</text>
<path d="M845.4 922H878.6" stroke="#ff5050" stroke-width="2" fill="none"/>
<polygon points="862,916.45 867.29,926.23 856.71,926.23" fill="#ff5050"/>
<text x="882.1" y="926.8" font-size="14" font-weight="bold" fill="#000" text-anchor="start"># of row = 20</text>
<path d="M845.4 939H878.6" stroke="#00b050" stroke-width="2" fill="none"/>
<polygon points="862,933.25 867.75,939 862,944.75 856.25,939" fill="#00b050"/>
<text x="882.1" y="943.8" font-size="14" font-weight="bold" fill="#000" text-anchor="start"># of row = 10</text>
<path d="M845.4 956.1H878.6" stroke="#1f4e79" stroke-width="2" fill="none"/>
<circle cx="862" cy="956.1" r="5.06" fill="#1f4e79"/>
<text x="882.1" y="960.9" font-size="14" font-weight="bold" fill="#000" text-anchor="start"># of row = 4</text>
<path d="M845.4 972.9H878.6" stroke="#0000ff" stroke-width="2" fill="none"/>
<path d="M862 968.07V977.73M857.89 968.79L866.11 977.01M857.89 977.01L866.11 968.79" stroke="#0000ff" stroke-width="2.07" fill="none"/>
<text x="882.1" y="977.7" font-size="14" font-weight="bold" fill="#000" text-anchor="start"># of row = 1</text>
<text x="845.4" y="1002.1" font-size="15.3" font-weight="bold" fill="#000" text-anchor="start"># of column = 10</text>
<text x="568.25" y="1121.7" font-size="17.8" font-weight="bold" fill="#000" text-anchor="end">0</text>
<text x="568.25" y="1067.7" font-size="17.8" font-weight="bold" fill="#000" text-anchor="end">10</text>
<text x="568.25" y="1013.7" font-size="17.8" font-weight="bold" fill="#000" text-anchor="end">20</text>
<text x="568.25" y="959.7" font-size="17.8" font-weight="bold" fill="#000" text-anchor="end">30</text>
<text x="568.25" y="905.7" font-size="17.8" font-weight="bold" fill="#000" text-anchor="end">40</text>
<text x="561.75" y="1162.15" font-size="17.6" font-weight="bold" fill="#000" text-anchor="start"><tspan>10</tspan><tspan dy="-7.5" font-size="12">2</tspan></text>
<text x="668.49" y="1162.15" font-size="17.6" font-weight="bold" fill="#000" text-anchor="start"><tspan>10</tspan><tspan dy="-7.5" font-size="12">3</tspan></text>
<text x="775.23" y="1162.15" font-size="17.6" font-weight="bold" fill="#000" text-anchor="start"><tspan>10</tspan><tspan dy="-7.5" font-size="12">4</tspan></text>
<text x="881.96" y="1162.15" font-size="17.6" font-weight="bold" fill="#000" text-anchor="start"><tspan>10</tspan><tspan dy="-7.5" font-size="12">5</tspan></text>
<text x="988.7" y="1162.15" font-size="17.6" font-weight="bold" fill="#000" text-anchor="start"><tspan>10</tspan><tspan dy="-7.5" font-size="12">6</tspan></text>
<text x="785.73" y="1179.95" font-size="18.2" font-weight="bold" fill="#000" text-anchor="middle">Target Sensor Resistance (Ω)</text>
<text x="539.95" y="1009.15" font-size="18.2" font-weight="bold" fill="#000" text-anchor="middle" transform="rotate(-90 539.95 1009.15)">Error (%)</text>
</g>
<text x="772" y="1212.5" font-size="24" font-weight="normal" fill="#000" text-anchor="middle" font-family='"Liberation Serif", serif'><tspan>(</tspan><tspan font-weight="bold">e</tspan><tspan>)</tspan></text>
</svg>
</body></html>
